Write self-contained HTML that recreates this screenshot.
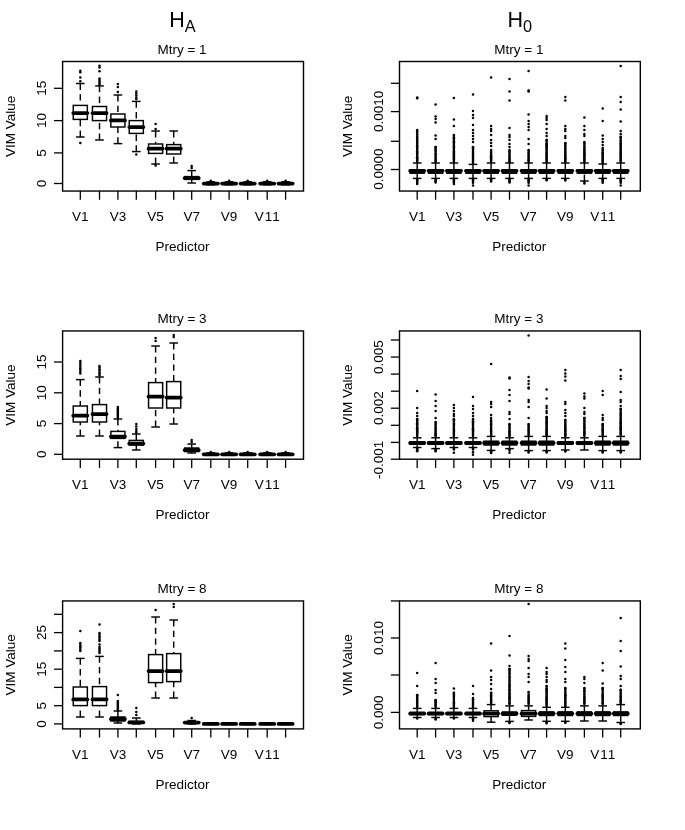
<!DOCTYPE html>
<html><head><meta charset="utf-8"><title>VIM boxplots</title>
<style>html,body{margin:0;padding:0;background:#fff}svg{display:block}</style>
</head><body>
<svg width="685" height="830" viewBox="0 0 685 830" font-family="Liberation Sans, Arial, sans-serif" font-size="13.5" fill="#000">
<rect width="685" height="830" fill="#fff"/>
<text x="169.3" y="27" font-size="21.5">H<tspan font-size="16.3" dy="5">A</tspan></text>
<text x="507.5" y="27" font-size="21.5">H<tspan font-size="16.3" dy="5">0</tspan></text>
<rect x="62.60" y="61.50" width="240.90" height="129.54" fill="none" stroke="#000" stroke-width="1.4"/>
<line x1="80.30" y1="191.04" x2="80.30" y2="199.74" stroke="#000" stroke-width="1.3"/>
<line x1="99.50" y1="191.04" x2="99.50" y2="199.74" stroke="#000" stroke-width="1.3"/>
<line x1="117.90" y1="191.04" x2="117.90" y2="199.74" stroke="#000" stroke-width="1.3"/>
<line x1="136.30" y1="191.04" x2="136.30" y2="199.74" stroke="#000" stroke-width="1.3"/>
<line x1="155.60" y1="191.04" x2="155.60" y2="199.74" stroke="#000" stroke-width="1.3"/>
<line x1="173.70" y1="191.04" x2="173.70" y2="199.74" stroke="#000" stroke-width="1.3"/>
<line x1="191.70" y1="191.04" x2="191.70" y2="199.74" stroke="#000" stroke-width="1.3"/>
<line x1="210.80" y1="191.04" x2="210.80" y2="199.74" stroke="#000" stroke-width="1.3"/>
<line x1="229.10" y1="191.04" x2="229.10" y2="199.74" stroke="#000" stroke-width="1.3"/>
<line x1="247.70" y1="191.04" x2="247.70" y2="199.74" stroke="#000" stroke-width="1.3"/>
<line x1="267.20" y1="191.04" x2="267.20" y2="199.74" stroke="#000" stroke-width="1.3"/>
<line x1="285.60" y1="191.04" x2="285.60" y2="199.74" stroke="#000" stroke-width="1.3"/>
<text x="80.30" y="221.04" text-anchor="middle">V1</text>
<text x="117.90" y="221.04" text-anchor="middle">V3</text>
<text x="155.60" y="221.04" text-anchor="middle">V5</text>
<text x="191.70" y="221.04" text-anchor="middle">V7</text>
<text x="229.10" y="221.04" text-anchor="middle">V9</text>
<text x="267.70" y="221.04" text-anchor="middle" letter-spacing="1">V11</text>
<text x="182.45" y="251.04" text-anchor="middle">Predictor</text>
<text x="182.05" y="54.00" text-anchor="middle">Mtry = 1</text>
<line x1="62.60" y1="88.30" x2="54.00" y2="88.30" stroke="#000" stroke-width="1.3"/>
<line x1="62.60" y1="120.60" x2="54.00" y2="120.60" stroke="#000" stroke-width="1.3"/>
<line x1="62.60" y1="152.90" x2="54.00" y2="152.90" stroke="#000" stroke-width="1.3"/>
<line x1="62.60" y1="183.50" x2="54.00" y2="183.50" stroke="#000" stroke-width="1.3"/>
<text transform="translate(46.20,88.30) rotate(-90)" text-anchor="middle">15</text>
<text transform="translate(46.20,120.60) rotate(-90)" text-anchor="middle">10</text>
<text transform="translate(46.20,152.90) rotate(-90)" text-anchor="middle">5</text>
<text transform="translate(46.20,183.50) rotate(-90)" text-anchor="middle">0</text>
<text transform="translate(15.30,126.27) rotate(-90)" text-anchor="middle">VIM Value</text>
<line x1="80.30" y1="83.50" x2="80.30" y2="105.40" stroke="#000" stroke-width="1.45" stroke-dasharray="6.4 4.3"/>
<line x1="80.30" y1="137.00" x2="80.30" y2="119.40" stroke="#000" stroke-width="1.45" stroke-dasharray="6.4 4.3"/>
<line x1="75.98" y1="83.50" x2="84.62" y2="83.50" stroke="#000" stroke-width="1.45"/>
<line x1="75.98" y1="137.00" x2="84.62" y2="137.00" stroke="#000" stroke-width="1.45"/>
<rect x="73.25" y="105.40" width="14.10" height="14.00" fill="none" stroke="#000" stroke-width="1.45"/>
<line x1="73.25" y1="113.00" x2="87.35" y2="113.00" stroke="#000" stroke-width="3.75" stroke-linecap="round"/>
<circle cx="80.30" cy="70.70" r="1.25"/>
<circle cx="80.30" cy="72.30" r="1.25"/>
<circle cx="80.30" cy="77.50" r="1.25"/>
<circle cx="80.30" cy="81.30" r="1.25"/>
<circle cx="80.30" cy="143.00" r="1.25"/>
<line x1="99.50" y1="85.90" x2="99.50" y2="106.50" stroke="#000" stroke-width="1.45" stroke-dasharray="6.4 4.3"/>
<line x1="99.50" y1="140.00" x2="99.50" y2="120.60" stroke="#000" stroke-width="1.45" stroke-dasharray="6.4 4.3"/>
<line x1="95.18" y1="85.90" x2="103.82" y2="85.90" stroke="#000" stroke-width="1.45"/>
<line x1="95.18" y1="140.00" x2="103.82" y2="140.00" stroke="#000" stroke-width="1.45"/>
<rect x="92.45" y="106.50" width="14.10" height="14.10" fill="none" stroke="#000" stroke-width="1.45"/>
<line x1="92.45" y1="113.00" x2="106.55" y2="113.00" stroke="#000" stroke-width="3.75" stroke-linecap="round"/>
<circle cx="99.50" cy="65.80" r="1.25"/>
<circle cx="99.50" cy="67.50" r="1.25"/>
<circle cx="99.50" cy="71.30" r="1.25"/>
<circle cx="99.50" cy="78.50" r="1.25"/>
<circle cx="99.50" cy="80.00" r="1.25"/>
<circle cx="99.50" cy="81.50" r="1.25"/>
<circle cx="99.50" cy="83.00" r="1.25"/>
<circle cx="99.50" cy="84.50" r="1.25"/>
<line x1="117.90" y1="95.00" x2="117.90" y2="114.00" stroke="#000" stroke-width="1.45" stroke-dasharray="6.4 4.3"/>
<line x1="117.90" y1="143.60" x2="117.90" y2="127.00" stroke="#000" stroke-width="1.45" stroke-dasharray="6.4 4.3"/>
<line x1="113.58" y1="95.00" x2="122.22" y2="95.00" stroke="#000" stroke-width="1.45"/>
<line x1="113.58" y1="143.60" x2="122.22" y2="143.60" stroke="#000" stroke-width="1.45"/>
<rect x="110.85" y="114.00" width="14.10" height="13.00" fill="none" stroke="#000" stroke-width="1.45"/>
<line x1="110.85" y1="120.40" x2="124.95" y2="120.40" stroke="#000" stroke-width="3.75" stroke-linecap="round"/>
<circle cx="117.90" cy="84.00" r="1.25"/>
<circle cx="117.90" cy="87.00" r="1.25"/>
<circle cx="117.90" cy="92.00" r="1.25"/>
<line x1="136.30" y1="101.40" x2="136.30" y2="120.60" stroke="#000" stroke-width="1.45" stroke-dasharray="6.4 4.3"/>
<line x1="136.30" y1="151.60" x2="136.30" y2="133.40" stroke="#000" stroke-width="1.45" stroke-dasharray="6.4 4.3"/>
<line x1="131.98" y1="101.40" x2="140.62" y2="101.40" stroke="#000" stroke-width="1.45"/>
<line x1="131.98" y1="151.60" x2="140.62" y2="151.60" stroke="#000" stroke-width="1.45"/>
<rect x="129.25" y="120.60" width="14.10" height="12.80" fill="none" stroke="#000" stroke-width="1.45"/>
<line x1="129.25" y1="127.00" x2="143.35" y2="127.00" stroke="#000" stroke-width="3.75" stroke-linecap="round"/>
<circle cx="136.30" cy="91.60" r="1.25"/>
<circle cx="136.30" cy="93.50" r="1.25"/>
<circle cx="136.30" cy="95.50" r="1.25"/>
<circle cx="136.30" cy="97.50" r="1.25"/>
<circle cx="136.30" cy="99.00" r="1.25"/>
<circle cx="136.30" cy="154.60" r="1.25"/>
<line x1="155.60" y1="131.00" x2="155.60" y2="144.00" stroke="#000" stroke-width="1.45" stroke-dasharray="6.4 4.3"/>
<line x1="155.60" y1="164.00" x2="155.60" y2="153.40" stroke="#000" stroke-width="1.45" stroke-dasharray="6.4 4.3"/>
<line x1="151.28" y1="131.00" x2="159.92" y2="131.00" stroke="#000" stroke-width="1.45"/>
<line x1="151.28" y1="164.00" x2="159.92" y2="164.00" stroke="#000" stroke-width="1.45"/>
<rect x="148.55" y="144.00" width="14.10" height="9.40" fill="none" stroke="#000" stroke-width="1.45"/>
<line x1="148.55" y1="148.60" x2="162.65" y2="148.60" stroke="#000" stroke-width="3.75" stroke-linecap="round"/>
<circle cx="155.60" cy="124.00" r="1.25"/>
<circle cx="155.60" cy="129.00" r="1.25"/>
<circle cx="155.60" cy="165.60" r="1.25"/>
<line x1="173.70" y1="131.00" x2="173.70" y2="144.60" stroke="#000" stroke-width="1.45" stroke-dasharray="6.4 4.3"/>
<line x1="173.70" y1="163.00" x2="173.70" y2="154.00" stroke="#000" stroke-width="1.45" stroke-dasharray="6.4 4.3"/>
<line x1="169.38" y1="131.00" x2="178.02" y2="131.00" stroke="#000" stroke-width="1.45"/>
<line x1="169.38" y1="163.00" x2="178.02" y2="163.00" stroke="#000" stroke-width="1.45"/>
<rect x="166.65" y="144.60" width="14.10" height="9.40" fill="none" stroke="#000" stroke-width="1.45"/>
<line x1="166.65" y1="148.60" x2="180.75" y2="148.60" stroke="#000" stroke-width="3.75" stroke-linecap="round"/>
<line x1="191.70" y1="170.60" x2="191.70" y2="176.60" stroke="#000" stroke-width="1.45" stroke-dasharray="6.4 4.3"/>
<line x1="191.70" y1="183.00" x2="191.70" y2="179.40" stroke="#000" stroke-width="1.45" stroke-dasharray="6.4 4.3"/>
<line x1="187.38" y1="170.60" x2="196.02" y2="170.60" stroke="#000" stroke-width="1.45"/>
<line x1="187.38" y1="183.00" x2="196.02" y2="183.00" stroke="#000" stroke-width="1.45"/>
<rect x="184.65" y="176.60" width="14.10" height="2.80" fill="#000" stroke="#000" stroke-width="1.45"/>
<line x1="184.65" y1="178.00" x2="198.75" y2="178.00" stroke="#000" stroke-width="3.75" stroke-linecap="round"/>
<circle cx="191.70" cy="166.00" r="1.25"/>
<circle cx="191.70" cy="168.00" r="1.25"/>
<line x1="210.80" y1="181.80" x2="210.80" y2="183.10" stroke="#000" stroke-width="1.45" stroke-dasharray="6.4 4.3"/>
<line x1="210.80" y1="184.80" x2="210.80" y2="183.90" stroke="#000" stroke-width="1.45" stroke-dasharray="6.4 4.3"/>
<line x1="206.48" y1="181.80" x2="215.12" y2="181.80" stroke="#000" stroke-width="1.45"/>
<line x1="206.48" y1="184.80" x2="215.12" y2="184.80" stroke="#000" stroke-width="1.45"/>
<rect x="203.75" y="183.10" width="14.10" height="0.80" fill="#000" stroke="#000" stroke-width="1.45"/>
<line x1="203.75" y1="183.50" x2="217.85" y2="183.50" stroke="#000" stroke-width="3.75" stroke-linecap="round"/>
<circle cx="210.80" cy="180.80" r="1.25"/>
<line x1="229.10" y1="181.80" x2="229.10" y2="183.10" stroke="#000" stroke-width="1.45" stroke-dasharray="6.4 4.3"/>
<line x1="229.10" y1="184.80" x2="229.10" y2="183.90" stroke="#000" stroke-width="1.45" stroke-dasharray="6.4 4.3"/>
<line x1="224.78" y1="181.80" x2="233.42" y2="181.80" stroke="#000" stroke-width="1.45"/>
<line x1="224.78" y1="184.80" x2="233.42" y2="184.80" stroke="#000" stroke-width="1.45"/>
<rect x="222.05" y="183.10" width="14.10" height="0.80" fill="#000" stroke="#000" stroke-width="1.45"/>
<line x1="222.05" y1="183.50" x2="236.15" y2="183.50" stroke="#000" stroke-width="3.75" stroke-linecap="round"/>
<circle cx="229.10" cy="180.80" r="1.25"/>
<line x1="247.70" y1="181.80" x2="247.70" y2="183.10" stroke="#000" stroke-width="1.45" stroke-dasharray="6.4 4.3"/>
<line x1="247.70" y1="184.80" x2="247.70" y2="183.90" stroke="#000" stroke-width="1.45" stroke-dasharray="6.4 4.3"/>
<line x1="243.38" y1="181.80" x2="252.02" y2="181.80" stroke="#000" stroke-width="1.45"/>
<line x1="243.38" y1="184.80" x2="252.02" y2="184.80" stroke="#000" stroke-width="1.45"/>
<rect x="240.65" y="183.10" width="14.10" height="0.80" fill="#000" stroke="#000" stroke-width="1.45"/>
<line x1="240.65" y1="183.50" x2="254.75" y2="183.50" stroke="#000" stroke-width="3.75" stroke-linecap="round"/>
<circle cx="247.70" cy="180.80" r="1.25"/>
<line x1="267.20" y1="181.80" x2="267.20" y2="183.10" stroke="#000" stroke-width="1.45" stroke-dasharray="6.4 4.3"/>
<line x1="267.20" y1="184.80" x2="267.20" y2="183.90" stroke="#000" stroke-width="1.45" stroke-dasharray="6.4 4.3"/>
<line x1="262.88" y1="181.80" x2="271.52" y2="181.80" stroke="#000" stroke-width="1.45"/>
<line x1="262.88" y1="184.80" x2="271.52" y2="184.80" stroke="#000" stroke-width="1.45"/>
<rect x="260.15" y="183.10" width="14.10" height="0.80" fill="#000" stroke="#000" stroke-width="1.45"/>
<line x1="260.15" y1="183.50" x2="274.25" y2="183.50" stroke="#000" stroke-width="3.75" stroke-linecap="round"/>
<circle cx="267.20" cy="180.80" r="1.25"/>
<line x1="285.60" y1="181.80" x2="285.60" y2="183.10" stroke="#000" stroke-width="1.45" stroke-dasharray="6.4 4.3"/>
<line x1="285.60" y1="184.80" x2="285.60" y2="183.90" stroke="#000" stroke-width="1.45" stroke-dasharray="6.4 4.3"/>
<line x1="281.28" y1="181.80" x2="289.92" y2="181.80" stroke="#000" stroke-width="1.45"/>
<line x1="281.28" y1="184.80" x2="289.92" y2="184.80" stroke="#000" stroke-width="1.45"/>
<rect x="278.55" y="183.10" width="14.10" height="0.80" fill="#000" stroke="#000" stroke-width="1.45"/>
<line x1="278.55" y1="183.50" x2="292.65" y2="183.50" stroke="#000" stroke-width="3.75" stroke-linecap="round"/>
<circle cx="285.60" cy="180.80" r="1.25"/>
<rect x="62.60" y="330.95" width="240.90" height="128.25" fill="none" stroke="#000" stroke-width="1.4"/>
<line x1="80.30" y1="459.20" x2="80.30" y2="467.90" stroke="#000" stroke-width="1.3"/>
<line x1="99.50" y1="459.20" x2="99.50" y2="467.90" stroke="#000" stroke-width="1.3"/>
<line x1="117.90" y1="459.20" x2="117.90" y2="467.90" stroke="#000" stroke-width="1.3"/>
<line x1="136.30" y1="459.20" x2="136.30" y2="467.90" stroke="#000" stroke-width="1.3"/>
<line x1="155.60" y1="459.20" x2="155.60" y2="467.90" stroke="#000" stroke-width="1.3"/>
<line x1="173.70" y1="459.20" x2="173.70" y2="467.90" stroke="#000" stroke-width="1.3"/>
<line x1="191.70" y1="459.20" x2="191.70" y2="467.90" stroke="#000" stroke-width="1.3"/>
<line x1="210.80" y1="459.20" x2="210.80" y2="467.90" stroke="#000" stroke-width="1.3"/>
<line x1="229.10" y1="459.20" x2="229.10" y2="467.90" stroke="#000" stroke-width="1.3"/>
<line x1="247.70" y1="459.20" x2="247.70" y2="467.90" stroke="#000" stroke-width="1.3"/>
<line x1="267.20" y1="459.20" x2="267.20" y2="467.90" stroke="#000" stroke-width="1.3"/>
<line x1="285.60" y1="459.20" x2="285.60" y2="467.90" stroke="#000" stroke-width="1.3"/>
<text x="80.30" y="489.20" text-anchor="middle">V1</text>
<text x="117.90" y="489.20" text-anchor="middle">V3</text>
<text x="155.60" y="489.20" text-anchor="middle">V5</text>
<text x="191.70" y="489.20" text-anchor="middle">V7</text>
<text x="229.10" y="489.20" text-anchor="middle">V9</text>
<text x="267.70" y="489.20" text-anchor="middle" letter-spacing="1">V11</text>
<text x="182.45" y="519.20" text-anchor="middle">Predictor</text>
<text x="182.05" y="323.45" text-anchor="middle">Mtry = 3</text>
<line x1="62.60" y1="362.00" x2="54.00" y2="362.00" stroke="#000" stroke-width="1.3"/>
<line x1="62.60" y1="392.80" x2="54.00" y2="392.80" stroke="#000" stroke-width="1.3"/>
<line x1="62.60" y1="423.60" x2="54.00" y2="423.60" stroke="#000" stroke-width="1.3"/>
<line x1="62.60" y1="454.30" x2="54.00" y2="454.30" stroke="#000" stroke-width="1.3"/>
<text transform="translate(46.20,362.00) rotate(-90)" text-anchor="middle">15</text>
<text transform="translate(46.20,392.80) rotate(-90)" text-anchor="middle">10</text>
<text transform="translate(46.20,423.60) rotate(-90)" text-anchor="middle">5</text>
<text transform="translate(46.20,454.30) rotate(-90)" text-anchor="middle">0</text>
<text transform="translate(15.30,395.07) rotate(-90)" text-anchor="middle">VIM Value</text>
<line x1="80.30" y1="379.60" x2="80.30" y2="406.00" stroke="#000" stroke-width="1.45" stroke-dasharray="6.4 4.3"/>
<line x1="80.30" y1="436.00" x2="80.30" y2="422.00" stroke="#000" stroke-width="1.45" stroke-dasharray="6.4 4.3"/>
<line x1="75.98" y1="379.60" x2="84.62" y2="379.60" stroke="#000" stroke-width="1.45"/>
<line x1="75.98" y1="436.00" x2="84.62" y2="436.00" stroke="#000" stroke-width="1.45"/>
<rect x="73.25" y="406.00" width="14.10" height="16.00" fill="none" stroke="#000" stroke-width="1.45"/>
<line x1="73.25" y1="415.60" x2="87.35" y2="415.60" stroke="#000" stroke-width="3.75" stroke-linecap="round"/>
<circle cx="80.30" cy="361.00" r="1.25"/>
<circle cx="80.30" cy="362.80" r="1.25"/>
<circle cx="80.30" cy="364.60" r="1.25"/>
<circle cx="80.30" cy="366.40" r="1.25"/>
<circle cx="80.30" cy="368.20" r="1.25"/>
<circle cx="80.30" cy="370.00" r="1.25"/>
<circle cx="80.30" cy="371.80" r="1.25"/>
<circle cx="80.30" cy="373.60" r="1.25"/>
<line x1="99.50" y1="377.00" x2="99.50" y2="404.60" stroke="#000" stroke-width="1.45" stroke-dasharray="6.4 4.3"/>
<line x1="99.50" y1="436.00" x2="99.50" y2="422.00" stroke="#000" stroke-width="1.45" stroke-dasharray="6.4 4.3"/>
<line x1="95.18" y1="377.00" x2="103.82" y2="377.00" stroke="#000" stroke-width="1.45"/>
<line x1="95.18" y1="436.00" x2="103.82" y2="436.00" stroke="#000" stroke-width="1.45"/>
<rect x="92.45" y="404.60" width="14.10" height="17.40" fill="none" stroke="#000" stroke-width="1.45"/>
<line x1="92.45" y1="414.00" x2="106.55" y2="414.00" stroke="#000" stroke-width="3.75" stroke-linecap="round"/>
<circle cx="99.50" cy="366.00" r="1.25"/>
<circle cx="99.50" cy="367.60" r="1.25"/>
<circle cx="99.50" cy="369.20" r="1.25"/>
<circle cx="99.50" cy="370.80" r="1.25"/>
<circle cx="99.50" cy="372.40" r="1.25"/>
<circle cx="99.50" cy="374.00" r="1.25"/>
<circle cx="99.50" cy="375.60" r="1.25"/>
<line x1="117.90" y1="419.00" x2="117.90" y2="431.40" stroke="#000" stroke-width="1.45" stroke-dasharray="6.4 4.3"/>
<line x1="117.90" y1="447.60" x2="117.90" y2="438.40" stroke="#000" stroke-width="1.45" stroke-dasharray="6.4 4.3"/>
<line x1="113.58" y1="419.00" x2="122.22" y2="419.00" stroke="#000" stroke-width="1.45"/>
<line x1="113.58" y1="447.60" x2="122.22" y2="447.60" stroke="#000" stroke-width="1.45"/>
<rect x="110.85" y="431.40" width="14.10" height="7.00" fill="none" stroke="#000" stroke-width="1.45"/>
<line x1="110.85" y1="436.60" x2="124.95" y2="436.60" stroke="#000" stroke-width="3.75" stroke-linecap="round"/>
<circle cx="117.90" cy="407.00" r="1.25"/>
<circle cx="117.90" cy="408.00" r="1.25"/>
<circle cx="117.90" cy="409.00" r="1.25"/>
<circle cx="117.90" cy="410.00" r="1.25"/>
<circle cx="117.90" cy="411.00" r="1.25"/>
<circle cx="117.90" cy="412.00" r="1.25"/>
<circle cx="117.90" cy="413.00" r="1.25"/>
<circle cx="117.90" cy="414.00" r="1.25"/>
<circle cx="117.90" cy="415.00" r="1.25"/>
<circle cx="117.90" cy="416.00" r="1.25"/>
<circle cx="117.90" cy="417.00" r="1.25"/>
<circle cx="117.90" cy="418.00" r="1.25"/>
<line x1="136.30" y1="434.00" x2="136.30" y2="440.40" stroke="#000" stroke-width="1.45" stroke-dasharray="6.4 4.3"/>
<line x1="136.30" y1="450.00" x2="136.30" y2="445.00" stroke="#000" stroke-width="1.45" stroke-dasharray="6.4 4.3"/>
<line x1="131.98" y1="434.00" x2="140.62" y2="434.00" stroke="#000" stroke-width="1.45"/>
<line x1="131.98" y1="450.00" x2="140.62" y2="450.00" stroke="#000" stroke-width="1.45"/>
<rect x="129.25" y="440.40" width="14.10" height="4.60" fill="none" stroke="#000" stroke-width="1.45"/>
<line x1="129.25" y1="443.60" x2="143.35" y2="443.60" stroke="#000" stroke-width="3.75" stroke-linecap="round"/>
<circle cx="136.30" cy="424.00" r="1.25"/>
<circle cx="136.30" cy="426.50" r="1.25"/>
<circle cx="136.30" cy="429.00" r="1.25"/>
<circle cx="136.30" cy="431.00" r="1.25"/>
<circle cx="136.30" cy="432.50" r="1.25"/>
<line x1="155.60" y1="346.00" x2="155.60" y2="382.60" stroke="#000" stroke-width="1.45" stroke-dasharray="6.4 4.3"/>
<line x1="155.60" y1="427.00" x2="155.60" y2="408.00" stroke="#000" stroke-width="1.45" stroke-dasharray="6.4 4.3"/>
<line x1="151.28" y1="346.00" x2="159.92" y2="346.00" stroke="#000" stroke-width="1.45"/>
<line x1="151.28" y1="427.00" x2="159.92" y2="427.00" stroke="#000" stroke-width="1.45"/>
<rect x="148.55" y="382.60" width="14.10" height="25.40" fill="none" stroke="#000" stroke-width="1.45"/>
<line x1="148.55" y1="396.60" x2="162.65" y2="396.60" stroke="#000" stroke-width="3.75" stroke-linecap="round"/>
<circle cx="155.60" cy="338.00" r="1.25"/>
<circle cx="155.60" cy="341.00" r="1.25"/>
<line x1="173.70" y1="343.00" x2="173.70" y2="381.60" stroke="#000" stroke-width="1.45" stroke-dasharray="6.4 4.3"/>
<line x1="173.70" y1="424.00" x2="173.70" y2="408.00" stroke="#000" stroke-width="1.45" stroke-dasharray="6.4 4.3"/>
<line x1="169.38" y1="343.00" x2="178.02" y2="343.00" stroke="#000" stroke-width="1.45"/>
<line x1="169.38" y1="424.00" x2="178.02" y2="424.00" stroke="#000" stroke-width="1.45"/>
<rect x="166.65" y="381.60" width="14.10" height="26.40" fill="none" stroke="#000" stroke-width="1.45"/>
<line x1="166.65" y1="397.60" x2="180.75" y2="397.60" stroke="#000" stroke-width="3.75" stroke-linecap="round"/>
<circle cx="173.70" cy="335.00" r="1.25"/>
<circle cx="173.70" cy="337.00" r="1.25"/>
<line x1="191.70" y1="444.00" x2="191.70" y2="448.00" stroke="#000" stroke-width="1.45" stroke-dasharray="6.4 4.3"/>
<line x1="191.70" y1="453.00" x2="191.70" y2="451.60" stroke="#000" stroke-width="1.45" stroke-dasharray="6.4 4.3"/>
<line x1="187.38" y1="444.00" x2="196.02" y2="444.00" stroke="#000" stroke-width="1.45"/>
<line x1="187.38" y1="453.00" x2="196.02" y2="453.00" stroke="#000" stroke-width="1.45"/>
<rect x="184.65" y="448.00" width="14.10" height="3.60" fill="#000" stroke="#000" stroke-width="1.45"/>
<line x1="184.65" y1="450.00" x2="198.75" y2="450.00" stroke="#000" stroke-width="3.75" stroke-linecap="round"/>
<circle cx="191.70" cy="440.00" r="1.25"/>
<circle cx="191.70" cy="442.00" r="1.25"/>
<line x1="210.80" y1="452.80" x2="210.80" y2="453.90" stroke="#000" stroke-width="1.45" stroke-dasharray="6.4 4.3"/>
<line x1="210.80" y1="455.20" x2="210.80" y2="454.60" stroke="#000" stroke-width="1.45" stroke-dasharray="6.4 4.3"/>
<line x1="206.48" y1="452.80" x2="215.12" y2="452.80" stroke="#000" stroke-width="1.45"/>
<line x1="206.48" y1="455.20" x2="215.12" y2="455.20" stroke="#000" stroke-width="1.45"/>
<rect x="203.75" y="453.90" width="14.10" height="0.70" fill="#000" stroke="#000" stroke-width="1.45"/>
<line x1="203.75" y1="454.30" x2="217.85" y2="454.30" stroke="#000" stroke-width="3.75" stroke-linecap="round"/>
<circle cx="210.80" cy="452.00" r="1.25"/>
<line x1="229.10" y1="452.80" x2="229.10" y2="453.90" stroke="#000" stroke-width="1.45" stroke-dasharray="6.4 4.3"/>
<line x1="229.10" y1="455.20" x2="229.10" y2="454.60" stroke="#000" stroke-width="1.45" stroke-dasharray="6.4 4.3"/>
<line x1="224.78" y1="452.80" x2="233.42" y2="452.80" stroke="#000" stroke-width="1.45"/>
<line x1="224.78" y1="455.20" x2="233.42" y2="455.20" stroke="#000" stroke-width="1.45"/>
<rect x="222.05" y="453.90" width="14.10" height="0.70" fill="#000" stroke="#000" stroke-width="1.45"/>
<line x1="222.05" y1="454.30" x2="236.15" y2="454.30" stroke="#000" stroke-width="3.75" stroke-linecap="round"/>
<circle cx="229.10" cy="452.00" r="1.25"/>
<line x1="247.70" y1="452.80" x2="247.70" y2="453.90" stroke="#000" stroke-width="1.45" stroke-dasharray="6.4 4.3"/>
<line x1="247.70" y1="455.20" x2="247.70" y2="454.60" stroke="#000" stroke-width="1.45" stroke-dasharray="6.4 4.3"/>
<line x1="243.38" y1="452.80" x2="252.02" y2="452.80" stroke="#000" stroke-width="1.45"/>
<line x1="243.38" y1="455.20" x2="252.02" y2="455.20" stroke="#000" stroke-width="1.45"/>
<rect x="240.65" y="453.90" width="14.10" height="0.70" fill="#000" stroke="#000" stroke-width="1.45"/>
<line x1="240.65" y1="454.30" x2="254.75" y2="454.30" stroke="#000" stroke-width="3.75" stroke-linecap="round"/>
<circle cx="247.70" cy="452.00" r="1.25"/>
<line x1="267.20" y1="452.80" x2="267.20" y2="453.90" stroke="#000" stroke-width="1.45" stroke-dasharray="6.4 4.3"/>
<line x1="267.20" y1="455.20" x2="267.20" y2="454.60" stroke="#000" stroke-width="1.45" stroke-dasharray="6.4 4.3"/>
<line x1="262.88" y1="452.80" x2="271.52" y2="452.80" stroke="#000" stroke-width="1.45"/>
<line x1="262.88" y1="455.20" x2="271.52" y2="455.20" stroke="#000" stroke-width="1.45"/>
<rect x="260.15" y="453.90" width="14.10" height="0.70" fill="#000" stroke="#000" stroke-width="1.45"/>
<line x1="260.15" y1="454.30" x2="274.25" y2="454.30" stroke="#000" stroke-width="3.75" stroke-linecap="round"/>
<circle cx="267.20" cy="452.00" r="1.25"/>
<line x1="285.60" y1="452.80" x2="285.60" y2="453.90" stroke="#000" stroke-width="1.45" stroke-dasharray="6.4 4.3"/>
<line x1="285.60" y1="455.20" x2="285.60" y2="454.60" stroke="#000" stroke-width="1.45" stroke-dasharray="6.4 4.3"/>
<line x1="281.28" y1="452.80" x2="289.92" y2="452.80" stroke="#000" stroke-width="1.45"/>
<line x1="281.28" y1="455.20" x2="289.92" y2="455.20" stroke="#000" stroke-width="1.45"/>
<rect x="278.55" y="453.90" width="14.10" height="0.70" fill="#000" stroke="#000" stroke-width="1.45"/>
<line x1="278.55" y1="454.30" x2="292.65" y2="454.30" stroke="#000" stroke-width="3.75" stroke-linecap="round"/>
<circle cx="285.60" cy="452.00" r="1.25"/>
<rect x="62.60" y="600.95" width="240.90" height="127.95" fill="none" stroke="#000" stroke-width="1.4"/>
<line x1="80.30" y1="728.90" x2="80.30" y2="737.60" stroke="#000" stroke-width="1.3"/>
<line x1="99.50" y1="728.90" x2="99.50" y2="737.60" stroke="#000" stroke-width="1.3"/>
<line x1="117.90" y1="728.90" x2="117.90" y2="737.60" stroke="#000" stroke-width="1.3"/>
<line x1="136.30" y1="728.90" x2="136.30" y2="737.60" stroke="#000" stroke-width="1.3"/>
<line x1="155.60" y1="728.90" x2="155.60" y2="737.60" stroke="#000" stroke-width="1.3"/>
<line x1="173.70" y1="728.90" x2="173.70" y2="737.60" stroke="#000" stroke-width="1.3"/>
<line x1="191.70" y1="728.90" x2="191.70" y2="737.60" stroke="#000" stroke-width="1.3"/>
<line x1="210.80" y1="728.90" x2="210.80" y2="737.60" stroke="#000" stroke-width="1.3"/>
<line x1="229.10" y1="728.90" x2="229.10" y2="737.60" stroke="#000" stroke-width="1.3"/>
<line x1="247.70" y1="728.90" x2="247.70" y2="737.60" stroke="#000" stroke-width="1.3"/>
<line x1="267.20" y1="728.90" x2="267.20" y2="737.60" stroke="#000" stroke-width="1.3"/>
<line x1="285.60" y1="728.90" x2="285.60" y2="737.60" stroke="#000" stroke-width="1.3"/>
<text x="80.30" y="758.90" text-anchor="middle">V1</text>
<text x="117.90" y="758.90" text-anchor="middle">V3</text>
<text x="155.60" y="758.90" text-anchor="middle">V5</text>
<text x="191.70" y="758.90" text-anchor="middle">V7</text>
<text x="229.10" y="758.90" text-anchor="middle">V9</text>
<text x="267.70" y="758.90" text-anchor="middle" letter-spacing="1">V11</text>
<text x="182.45" y="788.90" text-anchor="middle">Predictor</text>
<text x="182.05" y="593.45" text-anchor="middle">Mtry = 8</text>
<line x1="62.60" y1="614.30" x2="54.00" y2="614.30" stroke="#000" stroke-width="1.3"/>
<line x1="62.60" y1="632.60" x2="54.00" y2="632.60" stroke="#000" stroke-width="1.3"/>
<line x1="62.60" y1="650.90" x2="54.00" y2="650.90" stroke="#000" stroke-width="1.3"/>
<line x1="62.60" y1="669.20" x2="54.00" y2="669.20" stroke="#000" stroke-width="1.3"/>
<line x1="62.60" y1="687.40" x2="54.00" y2="687.40" stroke="#000" stroke-width="1.3"/>
<line x1="62.60" y1="705.70" x2="54.00" y2="705.70" stroke="#000" stroke-width="1.3"/>
<line x1="62.60" y1="723.90" x2="54.00" y2="723.90" stroke="#000" stroke-width="1.3"/>
<text transform="translate(46.20,632.60) rotate(-90)" text-anchor="middle">25</text>
<text transform="translate(46.20,669.20) rotate(-90)" text-anchor="middle">15</text>
<text transform="translate(46.20,705.70) rotate(-90)" text-anchor="middle">5</text>
<text transform="translate(46.20,723.90) rotate(-90)" text-anchor="middle">0</text>
<text transform="translate(15.30,664.92) rotate(-90)" text-anchor="middle">VIM Value</text>
<line x1="80.30" y1="658.40" x2="80.30" y2="687.00" stroke="#000" stroke-width="1.45" stroke-dasharray="6.4 4.3"/>
<line x1="80.30" y1="717.00" x2="80.30" y2="705.60" stroke="#000" stroke-width="1.45" stroke-dasharray="6.4 4.3"/>
<line x1="75.98" y1="658.40" x2="84.62" y2="658.40" stroke="#000" stroke-width="1.45"/>
<line x1="75.98" y1="717.00" x2="84.62" y2="717.00" stroke="#000" stroke-width="1.45"/>
<rect x="73.25" y="687.00" width="14.10" height="18.60" fill="none" stroke="#000" stroke-width="1.45"/>
<line x1="73.25" y1="699.40" x2="87.35" y2="699.40" stroke="#000" stroke-width="3.75" stroke-linecap="round"/>
<circle cx="80.30" cy="631.00" r="1.25"/>
<circle cx="80.30" cy="643.00" r="1.25"/>
<circle cx="80.30" cy="644.60" r="1.25"/>
<circle cx="80.30" cy="646.20" r="1.25"/>
<circle cx="80.30" cy="647.80" r="1.25"/>
<circle cx="80.30" cy="649.40" r="1.25"/>
<circle cx="80.30" cy="651.00" r="1.25"/>
<line x1="99.50" y1="656.40" x2="99.50" y2="686.60" stroke="#000" stroke-width="1.45" stroke-dasharray="6.4 4.3"/>
<line x1="99.50" y1="717.00" x2="99.50" y2="705.60" stroke="#000" stroke-width="1.45" stroke-dasharray="6.4 4.3"/>
<line x1="95.18" y1="656.40" x2="103.82" y2="656.40" stroke="#000" stroke-width="1.45"/>
<line x1="95.18" y1="717.00" x2="103.82" y2="717.00" stroke="#000" stroke-width="1.45"/>
<rect x="92.45" y="686.60" width="14.10" height="19.00" fill="none" stroke="#000" stroke-width="1.45"/>
<line x1="92.45" y1="699.40" x2="106.55" y2="699.40" stroke="#000" stroke-width="3.75" stroke-linecap="round"/>
<circle cx="99.50" cy="624.40" r="1.25"/>
<circle cx="99.50" cy="633.00" r="1.25"/>
<circle cx="99.50" cy="634.60" r="1.25"/>
<circle cx="99.50" cy="636.20" r="1.25"/>
<circle cx="99.50" cy="637.80" r="1.25"/>
<circle cx="99.50" cy="639.40" r="1.25"/>
<circle cx="99.50" cy="641.00" r="1.25"/>
<circle cx="99.50" cy="644.50" r="1.25"/>
<circle cx="99.50" cy="647.00" r="1.25"/>
<circle cx="99.50" cy="648.50" r="1.25"/>
<circle cx="99.50" cy="650.00" r="1.25"/>
<circle cx="99.50" cy="651.50" r="1.25"/>
<circle cx="99.50" cy="653.00" r="1.25"/>
<line x1="117.90" y1="711.00" x2="117.90" y2="717.00" stroke="#000" stroke-width="1.45" stroke-dasharray="6.4 4.3"/>
<line x1="117.90" y1="723.00" x2="117.90" y2="721.00" stroke="#000" stroke-width="1.45" stroke-dasharray="6.4 4.3"/>
<line x1="113.58" y1="711.00" x2="122.22" y2="711.00" stroke="#000" stroke-width="1.45"/>
<line x1="113.58" y1="723.00" x2="122.22" y2="723.00" stroke="#000" stroke-width="1.45"/>
<rect x="110.85" y="717.00" width="14.10" height="4.00" fill="#000" stroke="#000" stroke-width="1.45"/>
<line x1="110.85" y1="719.00" x2="124.95" y2="719.00" stroke="#000" stroke-width="3.75" stroke-linecap="round"/>
<circle cx="117.90" cy="695.00" r="1.25"/>
<circle cx="117.90" cy="701.00" r="1.25"/>
<circle cx="117.90" cy="702.00" r="1.25"/>
<circle cx="117.90" cy="703.00" r="1.25"/>
<circle cx="117.90" cy="704.00" r="1.25"/>
<circle cx="117.90" cy="705.00" r="1.25"/>
<circle cx="117.90" cy="706.00" r="1.25"/>
<circle cx="117.90" cy="707.00" r="1.25"/>
<circle cx="117.90" cy="708.00" r="1.25"/>
<circle cx="117.90" cy="709.00" r="1.25"/>
<circle cx="117.90" cy="710.00" r="1.25"/>
<line x1="136.30" y1="718.00" x2="136.30" y2="721.50" stroke="#000" stroke-width="1.45" stroke-dasharray="6.4 4.3"/>
<line x1="136.30" y1="724.00" x2="136.30" y2="723.30" stroke="#000" stroke-width="1.45" stroke-dasharray="6.4 4.3"/>
<line x1="131.98" y1="718.00" x2="140.62" y2="718.00" stroke="#000" stroke-width="1.45"/>
<line x1="131.98" y1="724.00" x2="140.62" y2="724.00" stroke="#000" stroke-width="1.45"/>
<rect x="129.25" y="721.50" width="14.10" height="1.80" fill="#000" stroke="#000" stroke-width="1.45"/>
<line x1="129.25" y1="722.40" x2="143.35" y2="722.40" stroke="#000" stroke-width="3.75" stroke-linecap="round"/>
<circle cx="136.30" cy="708.00" r="1.25"/>
<circle cx="136.30" cy="712.00" r="1.25"/>
<circle cx="136.30" cy="715.00" r="1.25"/>
<line x1="155.60" y1="617.00" x2="155.60" y2="654.60" stroke="#000" stroke-width="1.45" stroke-dasharray="6.4 4.3"/>
<line x1="155.60" y1="698.00" x2="155.60" y2="682.60" stroke="#000" stroke-width="1.45" stroke-dasharray="6.4 4.3"/>
<line x1="151.28" y1="617.00" x2="159.92" y2="617.00" stroke="#000" stroke-width="1.45"/>
<line x1="151.28" y1="698.00" x2="159.92" y2="698.00" stroke="#000" stroke-width="1.45"/>
<rect x="148.55" y="654.60" width="14.10" height="28.00" fill="none" stroke="#000" stroke-width="1.45"/>
<line x1="148.55" y1="671.00" x2="162.65" y2="671.00" stroke="#000" stroke-width="3.75" stroke-linecap="round"/>
<circle cx="155.60" cy="610.00" r="1.25"/>
<line x1="173.70" y1="620.00" x2="173.70" y2="653.60" stroke="#000" stroke-width="1.45" stroke-dasharray="6.4 4.3"/>
<line x1="173.70" y1="698.00" x2="173.70" y2="681.60" stroke="#000" stroke-width="1.45" stroke-dasharray="6.4 4.3"/>
<line x1="169.38" y1="620.00" x2="178.02" y2="620.00" stroke="#000" stroke-width="1.45"/>
<line x1="169.38" y1="698.00" x2="178.02" y2="698.00" stroke="#000" stroke-width="1.45"/>
<rect x="166.65" y="653.60" width="14.10" height="28.00" fill="none" stroke="#000" stroke-width="1.45"/>
<line x1="166.65" y1="671.00" x2="180.75" y2="671.00" stroke="#000" stroke-width="3.75" stroke-linecap="round"/>
<circle cx="173.70" cy="604.00" r="1.25"/>
<circle cx="173.70" cy="607.00" r="1.25"/>
<line x1="191.70" y1="720.50" x2="191.70" y2="722.00" stroke="#000" stroke-width="1.45" stroke-dasharray="6.4 4.3"/>
<line x1="191.70" y1="724.00" x2="191.70" y2="723.20" stroke="#000" stroke-width="1.45" stroke-dasharray="6.4 4.3"/>
<line x1="187.38" y1="720.50" x2="196.02" y2="720.50" stroke="#000" stroke-width="1.45"/>
<line x1="187.38" y1="724.00" x2="196.02" y2="724.00" stroke="#000" stroke-width="1.45"/>
<rect x="184.65" y="722.00" width="14.10" height="1.20" fill="#000" stroke="#000" stroke-width="1.45"/>
<line x1="184.65" y1="722.60" x2="198.75" y2="722.60" stroke="#000" stroke-width="3.75" stroke-linecap="round"/>
<circle cx="191.70" cy="718.00" r="1.25"/>
<line x1="210.80" y1="723.20" x2="210.80" y2="723.70" stroke="#000" stroke-width="1.45" stroke-dasharray="6.4 4.3"/>
<line x1="210.80" y1="724.50" x2="210.80" y2="724.10" stroke="#000" stroke-width="1.45" stroke-dasharray="6.4 4.3"/>
<line x1="206.48" y1="723.20" x2="215.12" y2="723.20" stroke="#000" stroke-width="1.45"/>
<line x1="206.48" y1="724.50" x2="215.12" y2="724.50" stroke="#000" stroke-width="1.45"/>
<rect x="203.75" y="723.70" width="14.10" height="0.40" fill="#000" stroke="#000" stroke-width="1.45"/>
<line x1="203.75" y1="723.90" x2="217.85" y2="723.90" stroke="#000" stroke-width="3.75" stroke-linecap="round"/>
<line x1="229.10" y1="723.20" x2="229.10" y2="723.70" stroke="#000" stroke-width="1.45" stroke-dasharray="6.4 4.3"/>
<line x1="229.10" y1="724.50" x2="229.10" y2="724.10" stroke="#000" stroke-width="1.45" stroke-dasharray="6.4 4.3"/>
<line x1="224.78" y1="723.20" x2="233.42" y2="723.20" stroke="#000" stroke-width="1.45"/>
<line x1="224.78" y1="724.50" x2="233.42" y2="724.50" stroke="#000" stroke-width="1.45"/>
<rect x="222.05" y="723.70" width="14.10" height="0.40" fill="#000" stroke="#000" stroke-width="1.45"/>
<line x1="222.05" y1="723.90" x2="236.15" y2="723.90" stroke="#000" stroke-width="3.75" stroke-linecap="round"/>
<line x1="247.70" y1="723.20" x2="247.70" y2="723.70" stroke="#000" stroke-width="1.45" stroke-dasharray="6.4 4.3"/>
<line x1="247.70" y1="724.50" x2="247.70" y2="724.10" stroke="#000" stroke-width="1.45" stroke-dasharray="6.4 4.3"/>
<line x1="243.38" y1="723.20" x2="252.02" y2="723.20" stroke="#000" stroke-width="1.45"/>
<line x1="243.38" y1="724.50" x2="252.02" y2="724.50" stroke="#000" stroke-width="1.45"/>
<rect x="240.65" y="723.70" width="14.10" height="0.40" fill="#000" stroke="#000" stroke-width="1.45"/>
<line x1="240.65" y1="723.90" x2="254.75" y2="723.90" stroke="#000" stroke-width="3.75" stroke-linecap="round"/>
<line x1="267.20" y1="723.20" x2="267.20" y2="723.70" stroke="#000" stroke-width="1.45" stroke-dasharray="6.4 4.3"/>
<line x1="267.20" y1="724.50" x2="267.20" y2="724.10" stroke="#000" stroke-width="1.45" stroke-dasharray="6.4 4.3"/>
<line x1="262.88" y1="723.20" x2="271.52" y2="723.20" stroke="#000" stroke-width="1.45"/>
<line x1="262.88" y1="724.50" x2="271.52" y2="724.50" stroke="#000" stroke-width="1.45"/>
<rect x="260.15" y="723.70" width="14.10" height="0.40" fill="#000" stroke="#000" stroke-width="1.45"/>
<line x1="260.15" y1="723.90" x2="274.25" y2="723.90" stroke="#000" stroke-width="3.75" stroke-linecap="round"/>
<line x1="285.60" y1="723.20" x2="285.60" y2="723.70" stroke="#000" stroke-width="1.45" stroke-dasharray="6.4 4.3"/>
<line x1="285.60" y1="724.50" x2="285.60" y2="724.10" stroke="#000" stroke-width="1.45" stroke-dasharray="6.4 4.3"/>
<line x1="281.28" y1="723.20" x2="289.92" y2="723.20" stroke="#000" stroke-width="1.45"/>
<line x1="281.28" y1="724.50" x2="289.92" y2="724.50" stroke="#000" stroke-width="1.45"/>
<rect x="278.55" y="723.70" width="14.10" height="0.40" fill="#000" stroke="#000" stroke-width="1.45"/>
<line x1="278.55" y1="723.90" x2="292.65" y2="723.90" stroke="#000" stroke-width="3.75" stroke-linecap="round"/>
<rect x="399.50" y="61.50" width="240.80" height="129.54" fill="none" stroke="#000" stroke-width="1.4"/>
<line x1="417.20" y1="191.04" x2="417.20" y2="199.74" stroke="#000" stroke-width="1.3"/>
<line x1="435.60" y1="191.04" x2="435.60" y2="199.74" stroke="#000" stroke-width="1.3"/>
<line x1="453.90" y1="191.04" x2="453.90" y2="199.74" stroke="#000" stroke-width="1.3"/>
<line x1="473.00" y1="191.04" x2="473.00" y2="199.74" stroke="#000" stroke-width="1.3"/>
<line x1="491.10" y1="191.04" x2="491.10" y2="199.74" stroke="#000" stroke-width="1.3"/>
<line x1="509.50" y1="191.04" x2="509.50" y2="199.74" stroke="#000" stroke-width="1.3"/>
<line x1="528.60" y1="191.04" x2="528.60" y2="199.74" stroke="#000" stroke-width="1.3"/>
<line x1="546.60" y1="191.04" x2="546.60" y2="199.74" stroke="#000" stroke-width="1.3"/>
<line x1="565.30" y1="191.04" x2="565.30" y2="199.74" stroke="#000" stroke-width="1.3"/>
<line x1="584.40" y1="191.04" x2="584.40" y2="199.74" stroke="#000" stroke-width="1.3"/>
<line x1="602.70" y1="191.04" x2="602.70" y2="199.74" stroke="#000" stroke-width="1.3"/>
<line x1="620.70" y1="191.04" x2="620.70" y2="199.74" stroke="#000" stroke-width="1.3"/>
<text x="417.20" y="221.04" text-anchor="middle">V1</text>
<text x="453.90" y="221.04" text-anchor="middle">V3</text>
<text x="491.10" y="221.04" text-anchor="middle">V5</text>
<text x="528.60" y="221.04" text-anchor="middle">V7</text>
<text x="565.30" y="221.04" text-anchor="middle">V9</text>
<text x="603.20" y="221.04" text-anchor="middle" letter-spacing="1">V11</text>
<text x="519.30" y="251.04" text-anchor="middle">Predictor</text>
<text x="518.90" y="54.00" text-anchor="middle">Mtry = 1</text>
<line x1="399.50" y1="83.30" x2="390.90" y2="83.30" stroke="#000" stroke-width="1.3"/>
<line x1="399.50" y1="111.60" x2="390.90" y2="111.60" stroke="#000" stroke-width="1.3"/>
<line x1="399.50" y1="141.30" x2="390.90" y2="141.30" stroke="#000" stroke-width="1.3"/>
<line x1="399.50" y1="169.50" x2="390.90" y2="169.50" stroke="#000" stroke-width="1.3"/>
<text transform="translate(383.10,111.40) rotate(-90)" text-anchor="middle">0.0010</text>
<text transform="translate(383.10,169.20) rotate(-90)" text-anchor="middle">0.0000</text>
<text transform="translate(352.20,126.27) rotate(-90)" text-anchor="middle">VIM Value</text>
<line x1="417.20" y1="163.00" x2="417.20" y2="169.80" stroke="#000" stroke-width="1.45" stroke-dasharray="6.4 4.3"/>
<line x1="417.20" y1="178.40" x2="417.20" y2="173.20" stroke="#000" stroke-width="1.45" stroke-dasharray="6.4 4.3"/>
<line x1="412.88" y1="163.00" x2="421.52" y2="163.00" stroke="#000" stroke-width="1.45"/>
<line x1="412.88" y1="178.40" x2="421.52" y2="178.40" stroke="#000" stroke-width="1.45"/>
<rect x="410.15" y="169.80" width="14.10" height="3.40" fill="#000" stroke="#000" stroke-width="1.45"/>
<line x1="410.15" y1="170.80" x2="424.25" y2="170.80" stroke="#000" stroke-width="3.75" stroke-linecap="round"/>
<circle cx="417.20" cy="97.60" r="1.25"/>
<circle cx="417.20" cy="98.20" r="1.25"/>
<circle cx="417.20" cy="162.00" r="1.25"/>
<circle cx="417.20" cy="161.08" r="1.25"/>
<circle cx="417.20" cy="160.10" r="1.25"/>
<circle cx="417.20" cy="158.98" r="1.25"/>
<circle cx="417.20" cy="158.17" r="1.25"/>
<circle cx="417.20" cy="157.23" r="1.25"/>
<circle cx="417.20" cy="155.92" r="1.25"/>
<circle cx="417.20" cy="154.69" r="1.25"/>
<circle cx="417.20" cy="153.56" r="1.25"/>
<circle cx="417.20" cy="152.38" r="1.25"/>
<circle cx="417.20" cy="151.24" r="1.25"/>
<circle cx="417.20" cy="150.10" r="1.25"/>
<circle cx="417.20" cy="148.83" r="1.25"/>
<circle cx="417.20" cy="147.87" r="1.25"/>
<circle cx="417.20" cy="146.54" r="1.25"/>
<circle cx="417.20" cy="145.15" r="1.25"/>
<circle cx="417.20" cy="143.71" r="1.25"/>
<circle cx="417.20" cy="142.43" r="1.25"/>
<circle cx="417.20" cy="141.02" r="1.25"/>
<circle cx="417.20" cy="139.74" r="1.25"/>
<circle cx="417.20" cy="138.75" r="1.25"/>
<circle cx="417.20" cy="137.22" r="1.25"/>
<circle cx="417.20" cy="135.90" r="1.25"/>
<circle cx="417.20" cy="134.57" r="1.25"/>
<circle cx="417.20" cy="133.12" r="1.25"/>
<circle cx="417.20" cy="131.22" r="1.25"/>
<circle cx="417.20" cy="130.00" r="1.25"/>
<circle cx="417.20" cy="179.50" r="1.25"/>
<circle cx="417.20" cy="180.60" r="1.25"/>
<circle cx="417.20" cy="181.70" r="1.25"/>
<circle cx="417.20" cy="182.80" r="1.25"/>
<circle cx="417.20" cy="183.90" r="1.25"/>
<line x1="435.60" y1="163.00" x2="435.60" y2="169.80" stroke="#000" stroke-width="1.45" stroke-dasharray="6.4 4.3"/>
<line x1="435.60" y1="178.40" x2="435.60" y2="173.20" stroke="#000" stroke-width="1.45" stroke-dasharray="6.4 4.3"/>
<line x1="431.28" y1="163.00" x2="439.92" y2="163.00" stroke="#000" stroke-width="1.45"/>
<line x1="431.28" y1="178.40" x2="439.92" y2="178.40" stroke="#000" stroke-width="1.45"/>
<rect x="428.55" y="169.80" width="14.10" height="3.40" fill="#000" stroke="#000" stroke-width="1.45"/>
<line x1="428.55" y1="170.80" x2="442.65" y2="170.80" stroke="#000" stroke-width="3.75" stroke-linecap="round"/>
<circle cx="435.60" cy="104.60" r="1.25"/>
<circle cx="435.60" cy="116.40" r="1.25"/>
<circle cx="435.60" cy="119.00" r="1.25"/>
<circle cx="435.60" cy="122.40" r="1.25"/>
<circle cx="435.60" cy="135.60" r="1.25"/>
<circle cx="435.60" cy="139.00" r="1.25"/>
<circle cx="435.60" cy="162.00" r="1.25"/>
<circle cx="435.60" cy="160.77" r="1.25"/>
<circle cx="435.60" cy="159.63" r="1.25"/>
<circle cx="435.60" cy="158.38" r="1.25"/>
<circle cx="435.60" cy="157.09" r="1.25"/>
<circle cx="435.60" cy="155.91" r="1.25"/>
<circle cx="435.60" cy="154.59" r="1.25"/>
<circle cx="435.60" cy="153.63" r="1.25"/>
<circle cx="435.60" cy="152.06" r="1.25"/>
<circle cx="435.60" cy="150.83" r="1.25"/>
<circle cx="435.60" cy="149.73" r="1.25"/>
<circle cx="435.60" cy="148.22" r="1.25"/>
<circle cx="435.60" cy="146.94" r="1.25"/>
<circle cx="435.60" cy="147.00" r="1.25"/>
<circle cx="435.60" cy="179.50" r="1.25"/>
<circle cx="435.60" cy="180.50" r="1.25"/>
<circle cx="435.60" cy="181.50" r="1.25"/>
<circle cx="435.60" cy="182.50" r="1.25"/>
<line x1="453.90" y1="163.00" x2="453.90" y2="169.80" stroke="#000" stroke-width="1.45" stroke-dasharray="6.4 4.3"/>
<line x1="453.90" y1="178.40" x2="453.90" y2="173.20" stroke="#000" stroke-width="1.45" stroke-dasharray="6.4 4.3"/>
<line x1="449.58" y1="163.00" x2="458.22" y2="163.00" stroke="#000" stroke-width="1.45"/>
<line x1="449.58" y1="178.40" x2="458.22" y2="178.40" stroke="#000" stroke-width="1.45"/>
<rect x="446.85" y="169.80" width="14.10" height="3.40" fill="#000" stroke="#000" stroke-width="1.45"/>
<line x1="446.85" y1="170.80" x2="460.95" y2="170.80" stroke="#000" stroke-width="3.75" stroke-linecap="round"/>
<circle cx="453.90" cy="98.00" r="1.25"/>
<circle cx="453.90" cy="119.60" r="1.25"/>
<circle cx="453.90" cy="126.00" r="1.25"/>
<circle cx="453.90" cy="162.00" r="1.25"/>
<circle cx="453.90" cy="160.84" r="1.25"/>
<circle cx="453.90" cy="159.60" r="1.25"/>
<circle cx="453.90" cy="158.54" r="1.25"/>
<circle cx="453.90" cy="157.58" r="1.25"/>
<circle cx="453.90" cy="156.48" r="1.25"/>
<circle cx="453.90" cy="155.56" r="1.25"/>
<circle cx="453.90" cy="154.45" r="1.25"/>
<circle cx="453.90" cy="153.55" r="1.25"/>
<circle cx="453.90" cy="152.49" r="1.25"/>
<circle cx="453.90" cy="151.19" r="1.25"/>
<circle cx="453.90" cy="150.07" r="1.25"/>
<circle cx="453.90" cy="148.82" r="1.25"/>
<circle cx="453.90" cy="147.58" r="1.25"/>
<circle cx="453.90" cy="146.15" r="1.25"/>
<circle cx="453.90" cy="144.86" r="1.25"/>
<circle cx="453.90" cy="143.81" r="1.25"/>
<circle cx="453.90" cy="142.26" r="1.25"/>
<circle cx="453.90" cy="141.18" r="1.25"/>
<circle cx="453.90" cy="139.79" r="1.25"/>
<circle cx="453.90" cy="138.52" r="1.25"/>
<circle cx="453.90" cy="137.36" r="1.25"/>
<circle cx="453.90" cy="135.81" r="1.25"/>
<circle cx="453.90" cy="135.00" r="1.25"/>
<circle cx="453.90" cy="179.50" r="1.25"/>
<circle cx="453.90" cy="180.60" r="1.25"/>
<circle cx="453.90" cy="181.70" r="1.25"/>
<circle cx="453.90" cy="182.80" r="1.25"/>
<circle cx="453.90" cy="183.90" r="1.25"/>
<line x1="473.00" y1="164.40" x2="473.00" y2="169.80" stroke="#000" stroke-width="1.45" stroke-dasharray="6.4 4.3"/>
<line x1="473.00" y1="178.40" x2="473.00" y2="173.20" stroke="#000" stroke-width="1.45" stroke-dasharray="6.4 4.3"/>
<line x1="468.68" y1="164.40" x2="477.32" y2="164.40" stroke="#000" stroke-width="1.45"/>
<line x1="468.68" y1="178.40" x2="477.32" y2="178.40" stroke="#000" stroke-width="1.45"/>
<rect x="465.95" y="169.80" width="14.10" height="3.40" fill="#000" stroke="#000" stroke-width="1.45"/>
<line x1="465.95" y1="170.80" x2="480.05" y2="170.80" stroke="#000" stroke-width="3.75" stroke-linecap="round"/>
<circle cx="473.00" cy="94.40" r="1.25"/>
<circle cx="473.00" cy="111.00" r="1.25"/>
<circle cx="473.00" cy="115.00" r="1.25"/>
<circle cx="473.00" cy="118.00" r="1.25"/>
<circle cx="473.00" cy="125.00" r="1.25"/>
<circle cx="473.00" cy="130.00" r="1.25"/>
<circle cx="473.00" cy="133.00" r="1.25"/>
<circle cx="473.00" cy="136.00" r="1.25"/>
<circle cx="473.00" cy="139.00" r="1.25"/>
<circle cx="473.00" cy="142.00" r="1.25"/>
<circle cx="473.00" cy="163.00" r="1.25"/>
<circle cx="473.00" cy="161.85" r="1.25"/>
<circle cx="473.00" cy="161.04" r="1.25"/>
<circle cx="473.00" cy="159.88" r="1.25"/>
<circle cx="473.00" cy="158.94" r="1.25"/>
<circle cx="473.00" cy="157.82" r="1.25"/>
<circle cx="473.00" cy="156.80" r="1.25"/>
<circle cx="473.00" cy="155.72" r="1.25"/>
<circle cx="473.00" cy="154.68" r="1.25"/>
<circle cx="473.00" cy="153.49" r="1.25"/>
<circle cx="473.00" cy="152.12" r="1.25"/>
<circle cx="473.00" cy="151.05" r="1.25"/>
<circle cx="473.00" cy="149.70" r="1.25"/>
<circle cx="473.00" cy="148.47" r="1.25"/>
<circle cx="473.00" cy="147.23" r="1.25"/>
<circle cx="473.00" cy="147.00" r="1.25"/>
<circle cx="473.00" cy="179.50" r="1.25"/>
<circle cx="473.00" cy="180.60" r="1.25"/>
<circle cx="473.00" cy="181.70" r="1.25"/>
<circle cx="473.00" cy="182.80" r="1.25"/>
<circle cx="473.00" cy="185.60" r="1.25"/>
<line x1="491.10" y1="163.00" x2="491.10" y2="169.80" stroke="#000" stroke-width="1.45" stroke-dasharray="6.4 4.3"/>
<line x1="491.10" y1="178.40" x2="491.10" y2="173.20" stroke="#000" stroke-width="1.45" stroke-dasharray="6.4 4.3"/>
<line x1="486.78" y1="163.00" x2="495.42" y2="163.00" stroke="#000" stroke-width="1.45"/>
<line x1="486.78" y1="178.40" x2="495.42" y2="178.40" stroke="#000" stroke-width="1.45"/>
<rect x="484.05" y="169.80" width="14.10" height="3.40" fill="#000" stroke="#000" stroke-width="1.45"/>
<line x1="484.05" y1="170.80" x2="498.15" y2="170.80" stroke="#000" stroke-width="3.75" stroke-linecap="round"/>
<circle cx="491.10" cy="77.60" r="1.25"/>
<circle cx="491.10" cy="126.00" r="1.25"/>
<circle cx="491.10" cy="129.00" r="1.25"/>
<circle cx="491.10" cy="131.00" r="1.25"/>
<circle cx="491.10" cy="135.00" r="1.25"/>
<circle cx="491.10" cy="140.00" r="1.25"/>
<circle cx="491.10" cy="143.00" r="1.25"/>
<circle cx="491.10" cy="146.00" r="1.25"/>
<circle cx="491.10" cy="162.00" r="1.25"/>
<circle cx="491.10" cy="160.78" r="1.25"/>
<circle cx="491.10" cy="159.55" r="1.25"/>
<circle cx="491.10" cy="158.56" r="1.25"/>
<circle cx="491.10" cy="157.27" r="1.25"/>
<circle cx="491.10" cy="156.34" r="1.25"/>
<circle cx="491.10" cy="155.23" r="1.25"/>
<circle cx="491.10" cy="153.73" r="1.25"/>
<circle cx="491.10" cy="152.69" r="1.25"/>
<circle cx="491.10" cy="151.06" r="1.25"/>
<circle cx="491.10" cy="150.00" r="1.25"/>
<circle cx="491.10" cy="179.50" r="1.25"/>
<circle cx="491.10" cy="180.50" r="1.25"/>
<circle cx="491.10" cy="181.50" r="1.25"/>
<line x1="509.50" y1="163.00" x2="509.50" y2="169.80" stroke="#000" stroke-width="1.45" stroke-dasharray="6.4 4.3"/>
<line x1="509.50" y1="178.40" x2="509.50" y2="173.20" stroke="#000" stroke-width="1.45" stroke-dasharray="6.4 4.3"/>
<line x1="505.18" y1="163.00" x2="513.82" y2="163.00" stroke="#000" stroke-width="1.45"/>
<line x1="505.18" y1="178.40" x2="513.82" y2="178.40" stroke="#000" stroke-width="1.45"/>
<rect x="502.45" y="169.80" width="14.10" height="3.40" fill="#000" stroke="#000" stroke-width="1.45"/>
<line x1="502.45" y1="170.80" x2="516.55" y2="170.80" stroke="#000" stroke-width="3.75" stroke-linecap="round"/>
<circle cx="509.50" cy="79.00" r="1.25"/>
<circle cx="509.50" cy="91.60" r="1.25"/>
<circle cx="509.50" cy="100.60" r="1.25"/>
<circle cx="509.50" cy="128.00" r="1.25"/>
<circle cx="509.50" cy="135.00" r="1.25"/>
<circle cx="509.50" cy="137.00" r="1.25"/>
<circle cx="509.50" cy="140.00" r="1.25"/>
<circle cx="509.50" cy="144.00" r="1.25"/>
<circle cx="509.50" cy="147.00" r="1.25"/>
<circle cx="509.50" cy="162.00" r="1.25"/>
<circle cx="509.50" cy="161.14" r="1.25"/>
<circle cx="509.50" cy="159.94" r="1.25"/>
<circle cx="509.50" cy="158.95" r="1.25"/>
<circle cx="509.50" cy="157.91" r="1.25"/>
<circle cx="509.50" cy="156.63" r="1.25"/>
<circle cx="509.50" cy="155.62" r="1.25"/>
<circle cx="509.50" cy="154.07" r="1.25"/>
<circle cx="509.50" cy="152.60" r="1.25"/>
<circle cx="509.50" cy="151.19" r="1.25"/>
<circle cx="509.50" cy="150.00" r="1.25"/>
<circle cx="509.50" cy="179.50" r="1.25"/>
<circle cx="509.50" cy="180.50" r="1.25"/>
<circle cx="509.50" cy="181.50" r="1.25"/>
<circle cx="509.50" cy="182.50" r="1.25"/>
<line x1="528.60" y1="163.00" x2="528.60" y2="169.80" stroke="#000" stroke-width="1.45" stroke-dasharray="6.4 4.3"/>
<line x1="528.60" y1="178.40" x2="528.60" y2="173.20" stroke="#000" stroke-width="1.45" stroke-dasharray="6.4 4.3"/>
<line x1="524.28" y1="163.00" x2="532.92" y2="163.00" stroke="#000" stroke-width="1.45"/>
<line x1="524.28" y1="178.40" x2="532.92" y2="178.40" stroke="#000" stroke-width="1.45"/>
<rect x="521.55" y="169.80" width="14.10" height="3.40" fill="#000" stroke="#000" stroke-width="1.45"/>
<line x1="521.55" y1="170.80" x2="535.65" y2="170.80" stroke="#000" stroke-width="3.75" stroke-linecap="round"/>
<circle cx="528.60" cy="71.00" r="1.25"/>
<circle cx="528.60" cy="90.60" r="1.25"/>
<circle cx="528.60" cy="91.60" r="1.25"/>
<circle cx="528.60" cy="114.40" r="1.25"/>
<circle cx="528.60" cy="121.00" r="1.25"/>
<circle cx="528.60" cy="124.00" r="1.25"/>
<circle cx="528.60" cy="127.00" r="1.25"/>
<circle cx="528.60" cy="130.00" r="1.25"/>
<circle cx="528.60" cy="139.00" r="1.25"/>
<circle cx="528.60" cy="144.00" r="1.25"/>
<circle cx="528.60" cy="162.00" r="1.25"/>
<circle cx="528.60" cy="160.87" r="1.25"/>
<circle cx="528.60" cy="159.92" r="1.25"/>
<circle cx="528.60" cy="159.00" r="1.25"/>
<circle cx="528.60" cy="157.89" r="1.25"/>
<circle cx="528.60" cy="156.68" r="1.25"/>
<circle cx="528.60" cy="155.28" r="1.25"/>
<circle cx="528.60" cy="153.71" r="1.25"/>
<circle cx="528.60" cy="152.15" r="1.25"/>
<circle cx="528.60" cy="150.80" r="1.25"/>
<circle cx="528.60" cy="150.00" r="1.25"/>
<circle cx="528.60" cy="179.50" r="1.25"/>
<circle cx="528.60" cy="180.60" r="1.25"/>
<circle cx="528.60" cy="181.70" r="1.25"/>
<circle cx="528.60" cy="182.80" r="1.25"/>
<circle cx="528.60" cy="185.60" r="1.25"/>
<line x1="546.60" y1="163.00" x2="546.60" y2="169.80" stroke="#000" stroke-width="1.45" stroke-dasharray="6.4 4.3"/>
<line x1="546.60" y1="178.40" x2="546.60" y2="173.20" stroke="#000" stroke-width="1.45" stroke-dasharray="6.4 4.3"/>
<line x1="542.28" y1="163.00" x2="550.92" y2="163.00" stroke="#000" stroke-width="1.45"/>
<line x1="542.28" y1="178.40" x2="550.92" y2="178.40" stroke="#000" stroke-width="1.45"/>
<rect x="539.55" y="169.80" width="14.10" height="3.40" fill="#000" stroke="#000" stroke-width="1.45"/>
<line x1="539.55" y1="170.80" x2="553.65" y2="170.80" stroke="#000" stroke-width="3.75" stroke-linecap="round"/>
<circle cx="546.60" cy="116.00" r="1.25"/>
<circle cx="546.60" cy="118.00" r="1.25"/>
<circle cx="546.60" cy="120.00" r="1.25"/>
<circle cx="546.60" cy="124.00" r="1.25"/>
<circle cx="546.60" cy="129.00" r="1.25"/>
<circle cx="546.60" cy="133.00" r="1.25"/>
<circle cx="546.60" cy="136.00" r="1.25"/>
<circle cx="546.60" cy="162.00" r="1.25"/>
<circle cx="546.60" cy="160.87" r="1.25"/>
<circle cx="546.60" cy="159.86" r="1.25"/>
<circle cx="546.60" cy="158.75" r="1.25"/>
<circle cx="546.60" cy="157.80" r="1.25"/>
<circle cx="546.60" cy="156.73" r="1.25"/>
<circle cx="546.60" cy="155.74" r="1.25"/>
<circle cx="546.60" cy="154.60" r="1.25"/>
<circle cx="546.60" cy="153.62" r="1.25"/>
<circle cx="546.60" cy="152.23" r="1.25"/>
<circle cx="546.60" cy="151.02" r="1.25"/>
<circle cx="546.60" cy="149.67" r="1.25"/>
<circle cx="546.60" cy="148.75" r="1.25"/>
<circle cx="546.60" cy="147.60" r="1.25"/>
<circle cx="546.60" cy="146.37" r="1.25"/>
<circle cx="546.60" cy="145.18" r="1.25"/>
<circle cx="546.60" cy="144.27" r="1.25"/>
<circle cx="546.60" cy="143.36" r="1.25"/>
<circle cx="546.60" cy="141.40" r="1.25"/>
<circle cx="546.60" cy="140.07" r="1.25"/>
<circle cx="546.60" cy="140.00" r="1.25"/>
<circle cx="546.60" cy="179.50" r="1.25"/>
<circle cx="546.60" cy="180.30" r="1.25"/>
<line x1="565.30" y1="163.00" x2="565.30" y2="169.80" stroke="#000" stroke-width="1.45" stroke-dasharray="6.4 4.3"/>
<line x1="565.30" y1="178.40" x2="565.30" y2="173.20" stroke="#000" stroke-width="1.45" stroke-dasharray="6.4 4.3"/>
<line x1="560.98" y1="163.00" x2="569.62" y2="163.00" stroke="#000" stroke-width="1.45"/>
<line x1="560.98" y1="178.40" x2="569.62" y2="178.40" stroke="#000" stroke-width="1.45"/>
<rect x="558.25" y="169.80" width="14.10" height="3.40" fill="#000" stroke="#000" stroke-width="1.45"/>
<line x1="558.25" y1="170.80" x2="572.35" y2="170.80" stroke="#000" stroke-width="3.75" stroke-linecap="round"/>
<circle cx="565.30" cy="97.00" r="1.25"/>
<circle cx="565.30" cy="100.60" r="1.25"/>
<circle cx="565.30" cy="126.00" r="1.25"/>
<circle cx="565.30" cy="129.00" r="1.25"/>
<circle cx="565.30" cy="131.00" r="1.25"/>
<circle cx="565.30" cy="136.00" r="1.25"/>
<circle cx="565.30" cy="138.00" r="1.25"/>
<circle cx="565.30" cy="162.00" r="1.25"/>
<circle cx="565.30" cy="161.02" r="1.25"/>
<circle cx="565.30" cy="159.93" r="1.25"/>
<circle cx="565.30" cy="159.03" r="1.25"/>
<circle cx="565.30" cy="158.15" r="1.25"/>
<circle cx="565.30" cy="156.98" r="1.25"/>
<circle cx="565.30" cy="156.12" r="1.25"/>
<circle cx="565.30" cy="155.07" r="1.25"/>
<circle cx="565.30" cy="153.83" r="1.25"/>
<circle cx="565.30" cy="152.50" r="1.25"/>
<circle cx="565.30" cy="151.38" r="1.25"/>
<circle cx="565.30" cy="150.09" r="1.25"/>
<circle cx="565.30" cy="148.78" r="1.25"/>
<circle cx="565.30" cy="147.62" r="1.25"/>
<circle cx="565.30" cy="146.12" r="1.25"/>
<circle cx="565.30" cy="144.95" r="1.25"/>
<circle cx="565.30" cy="143.16" r="1.25"/>
<circle cx="565.30" cy="143.00" r="1.25"/>
<circle cx="565.30" cy="179.50" r="1.25"/>
<circle cx="565.30" cy="180.50" r="1.25"/>
<line x1="584.40" y1="163.00" x2="584.40" y2="169.80" stroke="#000" stroke-width="1.45" stroke-dasharray="6.4 4.3"/>
<line x1="584.40" y1="181.00" x2="584.40" y2="173.20" stroke="#000" stroke-width="1.45" stroke-dasharray="6.4 4.3"/>
<line x1="580.08" y1="163.00" x2="588.72" y2="163.00" stroke="#000" stroke-width="1.45"/>
<line x1="580.08" y1="181.00" x2="588.72" y2="181.00" stroke="#000" stroke-width="1.45"/>
<rect x="577.35" y="169.80" width="14.10" height="3.40" fill="#000" stroke="#000" stroke-width="1.45"/>
<line x1="577.35" y1="170.80" x2="591.45" y2="170.80" stroke="#000" stroke-width="3.75" stroke-linecap="round"/>
<circle cx="584.40" cy="117.60" r="1.25"/>
<circle cx="584.40" cy="126.00" r="1.25"/>
<circle cx="584.40" cy="130.00" r="1.25"/>
<circle cx="584.40" cy="134.00" r="1.25"/>
<circle cx="584.40" cy="136.00" r="1.25"/>
<circle cx="584.40" cy="162.00" r="1.25"/>
<circle cx="584.40" cy="160.75" r="1.25"/>
<circle cx="584.40" cy="159.82" r="1.25"/>
<circle cx="584.40" cy="158.95" r="1.25"/>
<circle cx="584.40" cy="157.79" r="1.25"/>
<circle cx="584.40" cy="156.56" r="1.25"/>
<circle cx="584.40" cy="155.35" r="1.25"/>
<circle cx="584.40" cy="154.43" r="1.25"/>
<circle cx="584.40" cy="153.60" r="1.25"/>
<circle cx="584.40" cy="152.41" r="1.25"/>
<circle cx="584.40" cy="151.54" r="1.25"/>
<circle cx="584.40" cy="150.24" r="1.25"/>
<circle cx="584.40" cy="149.11" r="1.25"/>
<circle cx="584.40" cy="147.86" r="1.25"/>
<circle cx="584.40" cy="146.27" r="1.25"/>
<circle cx="584.40" cy="144.60" r="1.25"/>
<circle cx="584.40" cy="143.37" r="1.25"/>
<circle cx="584.40" cy="142.00" r="1.25"/>
<circle cx="584.40" cy="182.00" r="1.25"/>
<circle cx="584.40" cy="183.60" r="1.25"/>
<line x1="602.70" y1="164.00" x2="602.70" y2="169.80" stroke="#000" stroke-width="1.45" stroke-dasharray="6.4 4.3"/>
<line x1="602.70" y1="178.40" x2="602.70" y2="173.20" stroke="#000" stroke-width="1.45" stroke-dasharray="6.4 4.3"/>
<line x1="598.38" y1="164.00" x2="607.02" y2="164.00" stroke="#000" stroke-width="1.45"/>
<line x1="598.38" y1="178.40" x2="607.02" y2="178.40" stroke="#000" stroke-width="1.45"/>
<rect x="595.65" y="169.80" width="14.10" height="3.40" fill="#000" stroke="#000" stroke-width="1.45"/>
<line x1="595.65" y1="170.80" x2="609.75" y2="170.80" stroke="#000" stroke-width="3.75" stroke-linecap="round"/>
<circle cx="602.70" cy="108.40" r="1.25"/>
<circle cx="602.70" cy="121.00" r="1.25"/>
<circle cx="602.70" cy="135.60" r="1.25"/>
<circle cx="602.70" cy="139.00" r="1.25"/>
<circle cx="602.70" cy="142.00" r="1.25"/>
<circle cx="602.70" cy="145.00" r="1.25"/>
<circle cx="602.70" cy="163.00" r="1.25"/>
<circle cx="602.70" cy="161.84" r="1.25"/>
<circle cx="602.70" cy="160.66" r="1.25"/>
<circle cx="602.70" cy="159.82" r="1.25"/>
<circle cx="602.70" cy="158.70" r="1.25"/>
<circle cx="602.70" cy="157.76" r="1.25"/>
<circle cx="602.70" cy="156.75" r="1.25"/>
<circle cx="602.70" cy="155.50" r="1.25"/>
<circle cx="602.70" cy="154.41" r="1.25"/>
<circle cx="602.70" cy="153.28" r="1.25"/>
<circle cx="602.70" cy="152.21" r="1.25"/>
<circle cx="602.70" cy="150.69" r="1.25"/>
<circle cx="602.70" cy="149.40" r="1.25"/>
<circle cx="602.70" cy="148.00" r="1.25"/>
<circle cx="602.70" cy="179.50" r="1.25"/>
<circle cx="602.70" cy="180.60" r="1.25"/>
<circle cx="602.70" cy="181.70" r="1.25"/>
<circle cx="602.70" cy="182.80" r="1.25"/>
<line x1="620.70" y1="163.00" x2="620.70" y2="169.80" stroke="#000" stroke-width="1.45" stroke-dasharray="6.4 4.3"/>
<line x1="620.70" y1="178.40" x2="620.70" y2="173.20" stroke="#000" stroke-width="1.45" stroke-dasharray="6.4 4.3"/>
<line x1="616.38" y1="163.00" x2="625.02" y2="163.00" stroke="#000" stroke-width="1.45"/>
<line x1="616.38" y1="178.40" x2="625.02" y2="178.40" stroke="#000" stroke-width="1.45"/>
<rect x="613.65" y="169.80" width="14.10" height="3.40" fill="#000" stroke="#000" stroke-width="1.45"/>
<line x1="613.65" y1="170.80" x2="627.75" y2="170.80" stroke="#000" stroke-width="3.75" stroke-linecap="round"/>
<circle cx="620.70" cy="66.00" r="1.25"/>
<circle cx="620.70" cy="97.00" r="1.25"/>
<circle cx="620.70" cy="102.00" r="1.25"/>
<circle cx="620.70" cy="109.60" r="1.25"/>
<circle cx="620.70" cy="121.40" r="1.25"/>
<circle cx="620.70" cy="131.00" r="1.25"/>
<circle cx="620.70" cy="134.00" r="1.25"/>
<circle cx="620.70" cy="162.00" r="1.25"/>
<circle cx="620.70" cy="160.86" r="1.25"/>
<circle cx="620.70" cy="159.82" r="1.25"/>
<circle cx="620.70" cy="158.57" r="1.25"/>
<circle cx="620.70" cy="157.71" r="1.25"/>
<circle cx="620.70" cy="156.43" r="1.25"/>
<circle cx="620.70" cy="155.37" r="1.25"/>
<circle cx="620.70" cy="154.46" r="1.25"/>
<circle cx="620.70" cy="153.50" r="1.25"/>
<circle cx="620.70" cy="152.51" r="1.25"/>
<circle cx="620.70" cy="151.21" r="1.25"/>
<circle cx="620.70" cy="150.12" r="1.25"/>
<circle cx="620.70" cy="148.90" r="1.25"/>
<circle cx="620.70" cy="147.73" r="1.25"/>
<circle cx="620.70" cy="146.81" r="1.25"/>
<circle cx="620.70" cy="145.62" r="1.25"/>
<circle cx="620.70" cy="144.56" r="1.25"/>
<circle cx="620.70" cy="143.19" r="1.25"/>
<circle cx="620.70" cy="141.70" r="1.25"/>
<circle cx="620.70" cy="140.22" r="1.25"/>
<circle cx="620.70" cy="138.49" r="1.25"/>
<circle cx="620.70" cy="136.74" r="1.25"/>
<circle cx="620.70" cy="137.00" r="1.25"/>
<circle cx="620.70" cy="179.50" r="1.25"/>
<circle cx="620.70" cy="180.60" r="1.25"/>
<circle cx="620.70" cy="181.70" r="1.25"/>
<circle cx="620.70" cy="182.80" r="1.25"/>
<circle cx="620.70" cy="185.60" r="1.25"/>
<rect x="399.50" y="330.95" width="240.80" height="128.25" fill="none" stroke="#000" stroke-width="1.4"/>
<line x1="417.20" y1="459.20" x2="417.20" y2="467.90" stroke="#000" stroke-width="1.3"/>
<line x1="435.60" y1="459.20" x2="435.60" y2="467.90" stroke="#000" stroke-width="1.3"/>
<line x1="453.90" y1="459.20" x2="453.90" y2="467.90" stroke="#000" stroke-width="1.3"/>
<line x1="473.00" y1="459.20" x2="473.00" y2="467.90" stroke="#000" stroke-width="1.3"/>
<line x1="491.10" y1="459.20" x2="491.10" y2="467.90" stroke="#000" stroke-width="1.3"/>
<line x1="509.50" y1="459.20" x2="509.50" y2="467.90" stroke="#000" stroke-width="1.3"/>
<line x1="528.60" y1="459.20" x2="528.60" y2="467.90" stroke="#000" stroke-width="1.3"/>
<line x1="546.60" y1="459.20" x2="546.60" y2="467.90" stroke="#000" stroke-width="1.3"/>
<line x1="565.30" y1="459.20" x2="565.30" y2="467.90" stroke="#000" stroke-width="1.3"/>
<line x1="584.40" y1="459.20" x2="584.40" y2="467.90" stroke="#000" stroke-width="1.3"/>
<line x1="602.70" y1="459.20" x2="602.70" y2="467.90" stroke="#000" stroke-width="1.3"/>
<line x1="620.70" y1="459.20" x2="620.70" y2="467.90" stroke="#000" stroke-width="1.3"/>
<text x="417.20" y="489.20" text-anchor="middle">V1</text>
<text x="453.90" y="489.20" text-anchor="middle">V3</text>
<text x="491.10" y="489.20" text-anchor="middle">V5</text>
<text x="528.60" y="489.20" text-anchor="middle">V7</text>
<text x="565.30" y="489.20" text-anchor="middle">V9</text>
<text x="603.20" y="489.20" text-anchor="middle" letter-spacing="1">V11</text>
<text x="519.30" y="519.20" text-anchor="middle">Predictor</text>
<text x="518.90" y="323.45" text-anchor="middle">Mtry = 3</text>
<line x1="399.50" y1="340.00" x2="390.90" y2="340.00" stroke="#000" stroke-width="1.3"/>
<line x1="399.50" y1="357.05" x2="390.90" y2="357.05" stroke="#000" stroke-width="1.3"/>
<line x1="399.50" y1="374.10" x2="390.90" y2="374.10" stroke="#000" stroke-width="1.3"/>
<line x1="399.50" y1="391.20" x2="390.90" y2="391.20" stroke="#000" stroke-width="1.3"/>
<line x1="399.50" y1="408.20" x2="390.90" y2="408.20" stroke="#000" stroke-width="1.3"/>
<line x1="399.50" y1="425.30" x2="390.90" y2="425.30" stroke="#000" stroke-width="1.3"/>
<line x1="399.50" y1="442.40" x2="390.90" y2="442.40" stroke="#000" stroke-width="1.3"/>
<line x1="399.50" y1="459.20" x2="390.90" y2="459.20" stroke="#000" stroke-width="1.3"/>
<text transform="translate(383.10,357.05) rotate(-90)" text-anchor="middle">0.005</text>
<text transform="translate(383.10,408.20) rotate(-90)" text-anchor="middle">0.002</text>
<text transform="translate(383.10,459.90) rotate(-90)" text-anchor="middle">-0.001</text>
<text transform="translate(352.20,395.07) rotate(-90)" text-anchor="middle">VIM Value</text>
<line x1="417.20" y1="437.80" x2="417.20" y2="441.80" stroke="#000" stroke-width="1.45" stroke-dasharray="6.4 4.3"/>
<line x1="417.20" y1="447.50" x2="417.20" y2="444.30" stroke="#000" stroke-width="1.45" stroke-dasharray="6.4 4.3"/>
<line x1="412.88" y1="437.80" x2="421.52" y2="437.80" stroke="#000" stroke-width="1.45"/>
<line x1="412.88" y1="447.50" x2="421.52" y2="447.50" stroke="#000" stroke-width="1.45"/>
<rect x="410.15" y="441.80" width="14.10" height="2.50" fill="#000" stroke="#000" stroke-width="1.45"/>
<line x1="410.15" y1="442.90" x2="424.25" y2="442.90" stroke="#000" stroke-width="3.75" stroke-linecap="round"/>
<circle cx="417.20" cy="391.00" r="1.25"/>
<circle cx="417.20" cy="408.00" r="1.25"/>
<circle cx="417.20" cy="413.00" r="1.25"/>
<circle cx="417.20" cy="416.00" r="1.25"/>
<circle cx="417.20" cy="436.00" r="1.25"/>
<circle cx="417.20" cy="434.77" r="1.25"/>
<circle cx="417.20" cy="433.60" r="1.25"/>
<circle cx="417.20" cy="432.56" r="1.25"/>
<circle cx="417.20" cy="431.61" r="1.25"/>
<circle cx="417.20" cy="430.40" r="1.25"/>
<circle cx="417.20" cy="429.15" r="1.25"/>
<circle cx="417.20" cy="428.21" r="1.25"/>
<circle cx="417.20" cy="427.15" r="1.25"/>
<circle cx="417.20" cy="425.65" r="1.25"/>
<circle cx="417.20" cy="424.37" r="1.25"/>
<circle cx="417.20" cy="423.20" r="1.25"/>
<circle cx="417.20" cy="421.98" r="1.25"/>
<circle cx="417.20" cy="420.51" r="1.25"/>
<circle cx="417.20" cy="419.24" r="1.25"/>
<circle cx="417.20" cy="419.00" r="1.25"/>
<circle cx="417.20" cy="448.50" r="1.25"/>
<circle cx="417.20" cy="449.40" r="1.25"/>
<circle cx="417.20" cy="450.30" r="1.25"/>
<circle cx="417.20" cy="451.20" r="1.25"/>
<line x1="435.60" y1="437.80" x2="435.60" y2="441.80" stroke="#000" stroke-width="1.45" stroke-dasharray="6.4 4.3"/>
<line x1="435.60" y1="448.60" x2="435.60" y2="444.30" stroke="#000" stroke-width="1.45" stroke-dasharray="6.4 4.3"/>
<line x1="431.28" y1="437.80" x2="439.92" y2="437.80" stroke="#000" stroke-width="1.45"/>
<line x1="431.28" y1="448.60" x2="439.92" y2="448.60" stroke="#000" stroke-width="1.45"/>
<rect x="428.55" y="441.80" width="14.10" height="2.50" fill="#000" stroke="#000" stroke-width="1.45"/>
<line x1="428.55" y1="442.90" x2="442.65" y2="442.90" stroke="#000" stroke-width="3.75" stroke-linecap="round"/>
<circle cx="435.60" cy="394.60" r="1.25"/>
<circle cx="435.60" cy="401.00" r="1.25"/>
<circle cx="435.60" cy="406.00" r="1.25"/>
<circle cx="435.60" cy="411.00" r="1.25"/>
<circle cx="435.60" cy="418.00" r="1.25"/>
<circle cx="435.60" cy="436.00" r="1.25"/>
<circle cx="435.60" cy="435.20" r="1.25"/>
<circle cx="435.60" cy="434.18" r="1.25"/>
<circle cx="435.60" cy="433.26" r="1.25"/>
<circle cx="435.60" cy="431.97" r="1.25"/>
<circle cx="435.60" cy="430.88" r="1.25"/>
<circle cx="435.60" cy="429.85" r="1.25"/>
<circle cx="435.60" cy="428.80" r="1.25"/>
<circle cx="435.60" cy="427.52" r="1.25"/>
<circle cx="435.60" cy="426.10" r="1.25"/>
<circle cx="435.60" cy="424.50" r="1.25"/>
<circle cx="435.60" cy="423.05" r="1.25"/>
<circle cx="435.60" cy="422.00" r="1.25"/>
<circle cx="435.60" cy="449.50" r="1.25"/>
<circle cx="435.60" cy="450.40" r="1.25"/>
<circle cx="435.60" cy="451.30" r="1.25"/>
<line x1="453.90" y1="437.80" x2="453.90" y2="441.80" stroke="#000" stroke-width="1.45" stroke-dasharray="6.4 4.3"/>
<line x1="453.90" y1="447.50" x2="453.90" y2="444.30" stroke="#000" stroke-width="1.45" stroke-dasharray="6.4 4.3"/>
<line x1="449.58" y1="437.80" x2="458.22" y2="437.80" stroke="#000" stroke-width="1.45"/>
<line x1="449.58" y1="447.50" x2="458.22" y2="447.50" stroke="#000" stroke-width="1.45"/>
<rect x="446.85" y="441.80" width="14.10" height="2.50" fill="#000" stroke="#000" stroke-width="1.45"/>
<line x1="446.85" y1="442.90" x2="460.95" y2="442.90" stroke="#000" stroke-width="3.75" stroke-linecap="round"/>
<circle cx="453.90" cy="405.00" r="1.25"/>
<circle cx="453.90" cy="408.00" r="1.25"/>
<circle cx="453.90" cy="411.00" r="1.25"/>
<circle cx="453.90" cy="414.00" r="1.25"/>
<circle cx="453.90" cy="416.00" r="1.25"/>
<circle cx="453.90" cy="436.00" r="1.25"/>
<circle cx="453.90" cy="435.07" r="1.25"/>
<circle cx="453.90" cy="433.78" r="1.25"/>
<circle cx="453.90" cy="432.71" r="1.25"/>
<circle cx="453.90" cy="431.65" r="1.25"/>
<circle cx="453.90" cy="430.44" r="1.25"/>
<circle cx="453.90" cy="429.34" r="1.25"/>
<circle cx="453.90" cy="428.11" r="1.25"/>
<circle cx="453.90" cy="427.01" r="1.25"/>
<circle cx="453.90" cy="425.85" r="1.25"/>
<circle cx="453.90" cy="424.52" r="1.25"/>
<circle cx="453.90" cy="423.20" r="1.25"/>
<circle cx="453.90" cy="421.75" r="1.25"/>
<circle cx="453.90" cy="420.27" r="1.25"/>
<circle cx="453.90" cy="419.15" r="1.25"/>
<circle cx="453.90" cy="419.00" r="1.25"/>
<circle cx="453.90" cy="448.50" r="1.25"/>
<circle cx="453.90" cy="449.40" r="1.25"/>
<circle cx="453.90" cy="452.70" r="1.25"/>
<line x1="473.00" y1="437.80" x2="473.00" y2="441.80" stroke="#000" stroke-width="1.45" stroke-dasharray="6.4 4.3"/>
<line x1="473.00" y1="447.50" x2="473.00" y2="444.30" stroke="#000" stroke-width="1.45" stroke-dasharray="6.4 4.3"/>
<line x1="468.68" y1="437.80" x2="477.32" y2="437.80" stroke="#000" stroke-width="1.45"/>
<line x1="468.68" y1="447.50" x2="477.32" y2="447.50" stroke="#000" stroke-width="1.45"/>
<rect x="465.95" y="441.80" width="14.10" height="2.50" fill="#000" stroke="#000" stroke-width="1.45"/>
<line x1="465.95" y1="442.90" x2="480.05" y2="442.90" stroke="#000" stroke-width="3.75" stroke-linecap="round"/>
<circle cx="473.00" cy="397.00" r="1.25"/>
<circle cx="473.00" cy="406.00" r="1.25"/>
<circle cx="473.00" cy="409.00" r="1.25"/>
<circle cx="473.00" cy="413.00" r="1.25"/>
<circle cx="473.00" cy="416.00" r="1.25"/>
<circle cx="473.00" cy="436.00" r="1.25"/>
<circle cx="473.00" cy="434.82" r="1.25"/>
<circle cx="473.00" cy="433.65" r="1.25"/>
<circle cx="473.00" cy="432.71" r="1.25"/>
<circle cx="473.00" cy="431.47" r="1.25"/>
<circle cx="473.00" cy="430.40" r="1.25"/>
<circle cx="473.00" cy="429.17" r="1.25"/>
<circle cx="473.00" cy="428.14" r="1.25"/>
<circle cx="473.00" cy="426.88" r="1.25"/>
<circle cx="473.00" cy="425.64" r="1.25"/>
<circle cx="473.00" cy="424.67" r="1.25"/>
<circle cx="473.00" cy="423.77" r="1.25"/>
<circle cx="473.00" cy="422.16" r="1.25"/>
<circle cx="473.00" cy="421.13" r="1.25"/>
<circle cx="473.00" cy="419.50" r="1.25"/>
<circle cx="473.00" cy="419.00" r="1.25"/>
<circle cx="473.00" cy="448.50" r="1.25"/>
<circle cx="473.00" cy="449.40" r="1.25"/>
<circle cx="473.00" cy="452.30" r="1.25"/>
<circle cx="473.00" cy="454.80" r="1.25"/>
<line x1="491.10" y1="436.40" x2="491.10" y2="441.20" stroke="#000" stroke-width="1.45" stroke-dasharray="6.4 4.3"/>
<line x1="491.10" y1="450.40" x2="491.10" y2="445.00" stroke="#000" stroke-width="1.45" stroke-dasharray="6.4 4.3"/>
<line x1="486.78" y1="436.40" x2="495.42" y2="436.40" stroke="#000" stroke-width="1.45"/>
<line x1="486.78" y1="450.40" x2="495.42" y2="450.40" stroke="#000" stroke-width="1.45"/>
<rect x="484.05" y="441.20" width="14.10" height="3.80" fill="#000" stroke="#000" stroke-width="1.45"/>
<line x1="484.05" y1="442.90" x2="498.15" y2="442.90" stroke="#000" stroke-width="3.75" stroke-linecap="round"/>
<circle cx="491.10" cy="364.00" r="1.25"/>
<circle cx="491.10" cy="402.00" r="1.25"/>
<circle cx="491.10" cy="404.00" r="1.25"/>
<circle cx="491.10" cy="407.00" r="1.25"/>
<circle cx="491.10" cy="415.00" r="1.25"/>
<circle cx="491.10" cy="418.00" r="1.25"/>
<circle cx="491.10" cy="435.00" r="1.25"/>
<circle cx="491.10" cy="433.90" r="1.25"/>
<circle cx="491.10" cy="432.90" r="1.25"/>
<circle cx="491.10" cy="431.83" r="1.25"/>
<circle cx="491.10" cy="430.91" r="1.25"/>
<circle cx="491.10" cy="429.72" r="1.25"/>
<circle cx="491.10" cy="428.40" r="1.25"/>
<circle cx="491.10" cy="427.04" r="1.25"/>
<circle cx="491.10" cy="425.78" r="1.25"/>
<circle cx="491.10" cy="424.26" r="1.25"/>
<circle cx="491.10" cy="422.95" r="1.25"/>
<circle cx="491.10" cy="421.38" r="1.25"/>
<circle cx="491.10" cy="420.00" r="1.25"/>
<circle cx="491.10" cy="451.30" r="1.25"/>
<circle cx="491.10" cy="452.20" r="1.25"/>
<circle cx="491.10" cy="453.10" r="1.25"/>
<line x1="509.50" y1="437.80" x2="509.50" y2="441.20" stroke="#000" stroke-width="1.45" stroke-dasharray="6.4 4.3"/>
<line x1="509.50" y1="448.60" x2="509.50" y2="445.00" stroke="#000" stroke-width="1.45" stroke-dasharray="6.4 4.3"/>
<line x1="505.18" y1="437.80" x2="513.82" y2="437.80" stroke="#000" stroke-width="1.45"/>
<line x1="505.18" y1="448.60" x2="513.82" y2="448.60" stroke="#000" stroke-width="1.45"/>
<rect x="502.45" y="441.20" width="14.10" height="3.80" fill="#000" stroke="#000" stroke-width="1.45"/>
<line x1="502.45" y1="442.90" x2="516.55" y2="442.90" stroke="#000" stroke-width="3.75" stroke-linecap="round"/>
<circle cx="509.50" cy="377.60" r="1.25"/>
<circle cx="509.50" cy="378.60" r="1.25"/>
<circle cx="509.50" cy="390.00" r="1.25"/>
<circle cx="509.50" cy="395.00" r="1.25"/>
<circle cx="509.50" cy="401.00" r="1.25"/>
<circle cx="509.50" cy="412.00" r="1.25"/>
<circle cx="509.50" cy="414.00" r="1.25"/>
<circle cx="509.50" cy="419.00" r="1.25"/>
<circle cx="509.50" cy="436.00" r="1.25"/>
<circle cx="509.50" cy="435.20" r="1.25"/>
<circle cx="509.50" cy="434.07" r="1.25"/>
<circle cx="509.50" cy="432.99" r="1.25"/>
<circle cx="509.50" cy="432.06" r="1.25"/>
<circle cx="509.50" cy="431.18" r="1.25"/>
<circle cx="509.50" cy="429.98" r="1.25"/>
<circle cx="509.50" cy="428.63" r="1.25"/>
<circle cx="509.50" cy="427.33" r="1.25"/>
<circle cx="509.50" cy="425.77" r="1.25"/>
<circle cx="509.50" cy="424.66" r="1.25"/>
<circle cx="509.50" cy="424.00" r="1.25"/>
<circle cx="509.50" cy="449.50" r="1.25"/>
<circle cx="509.50" cy="450.40" r="1.25"/>
<circle cx="509.50" cy="452.70" r="1.25"/>
<line x1="528.60" y1="436.40" x2="528.60" y2="441.20" stroke="#000" stroke-width="1.45" stroke-dasharray="6.4 4.3"/>
<line x1="528.60" y1="450.60" x2="528.60" y2="445.00" stroke="#000" stroke-width="1.45" stroke-dasharray="6.4 4.3"/>
<line x1="524.28" y1="436.40" x2="532.92" y2="436.40" stroke="#000" stroke-width="1.45"/>
<line x1="524.28" y1="450.60" x2="532.92" y2="450.60" stroke="#000" stroke-width="1.45"/>
<rect x="521.55" y="441.20" width="14.10" height="3.80" fill="#000" stroke="#000" stroke-width="1.45"/>
<line x1="521.55" y1="442.90" x2="535.65" y2="442.90" stroke="#000" stroke-width="3.75" stroke-linecap="round"/>
<circle cx="528.60" cy="335.60" r="1.25"/>
<circle cx="528.60" cy="377.00" r="1.25"/>
<circle cx="528.60" cy="381.00" r="1.25"/>
<circle cx="528.60" cy="384.00" r="1.25"/>
<circle cx="528.60" cy="387.50" r="1.25"/>
<circle cx="528.60" cy="388.50" r="1.25"/>
<circle cx="528.60" cy="400.00" r="1.25"/>
<circle cx="528.60" cy="402.00" r="1.25"/>
<circle cx="528.60" cy="407.00" r="1.25"/>
<circle cx="528.60" cy="418.00" r="1.25"/>
<circle cx="528.60" cy="435.00" r="1.25"/>
<circle cx="528.60" cy="433.93" r="1.25"/>
<circle cx="528.60" cy="432.96" r="1.25"/>
<circle cx="528.60" cy="431.81" r="1.25"/>
<circle cx="528.60" cy="430.52" r="1.25"/>
<circle cx="528.60" cy="429.13" r="1.25"/>
<circle cx="528.60" cy="427.85" r="1.25"/>
<circle cx="528.60" cy="426.21" r="1.25"/>
<circle cx="528.60" cy="424.68" r="1.25"/>
<circle cx="528.60" cy="424.00" r="1.25"/>
<circle cx="528.60" cy="451.50" r="1.25"/>
<circle cx="528.60" cy="452.40" r="1.25"/>
<line x1="546.60" y1="436.40" x2="546.60" y2="441.20" stroke="#000" stroke-width="1.45" stroke-dasharray="6.4 4.3"/>
<line x1="546.60" y1="450.60" x2="546.60" y2="445.00" stroke="#000" stroke-width="1.45" stroke-dasharray="6.4 4.3"/>
<line x1="542.28" y1="436.40" x2="550.92" y2="436.40" stroke="#000" stroke-width="1.45"/>
<line x1="542.28" y1="450.60" x2="550.92" y2="450.60" stroke="#000" stroke-width="1.45"/>
<rect x="539.55" y="441.20" width="14.10" height="3.80" fill="#000" stroke="#000" stroke-width="1.45"/>
<line x1="539.55" y1="442.90" x2="553.65" y2="442.90" stroke="#000" stroke-width="3.75" stroke-linecap="round"/>
<circle cx="546.60" cy="389.60" r="1.25"/>
<circle cx="546.60" cy="398.60" r="1.25"/>
<circle cx="546.60" cy="406.00" r="1.25"/>
<circle cx="546.60" cy="408.00" r="1.25"/>
<circle cx="546.60" cy="411.00" r="1.25"/>
<circle cx="546.60" cy="413.00" r="1.25"/>
<circle cx="546.60" cy="435.00" r="1.25"/>
<circle cx="546.60" cy="434.15" r="1.25"/>
<circle cx="546.60" cy="433.31" r="1.25"/>
<circle cx="546.60" cy="432.42" r="1.25"/>
<circle cx="546.60" cy="431.26" r="1.25"/>
<circle cx="546.60" cy="430.22" r="1.25"/>
<circle cx="546.60" cy="429.23" r="1.25"/>
<circle cx="546.60" cy="428.00" r="1.25"/>
<circle cx="546.60" cy="426.96" r="1.25"/>
<circle cx="546.60" cy="425.72" r="1.25"/>
<circle cx="546.60" cy="424.58" r="1.25"/>
<circle cx="546.60" cy="423.40" r="1.25"/>
<circle cx="546.60" cy="422.51" r="1.25"/>
<circle cx="546.60" cy="421.24" r="1.25"/>
<circle cx="546.60" cy="420.08" r="1.25"/>
<circle cx="546.60" cy="419.05" r="1.25"/>
<circle cx="546.60" cy="417.90" r="1.25"/>
<circle cx="546.60" cy="416.98" r="1.25"/>
<circle cx="546.60" cy="417.00" r="1.25"/>
<circle cx="546.60" cy="451.50" r="1.25"/>
<circle cx="546.60" cy="452.40" r="1.25"/>
<line x1="565.30" y1="437.80" x2="565.30" y2="441.80" stroke="#000" stroke-width="1.45" stroke-dasharray="6.4 4.3"/>
<line x1="565.30" y1="450.00" x2="565.30" y2="444.30" stroke="#000" stroke-width="1.45" stroke-dasharray="6.4 4.3"/>
<line x1="560.98" y1="437.80" x2="569.62" y2="437.80" stroke="#000" stroke-width="1.45"/>
<line x1="560.98" y1="450.00" x2="569.62" y2="450.00" stroke="#000" stroke-width="1.45"/>
<rect x="558.25" y="441.80" width="14.10" height="2.50" fill="#000" stroke="#000" stroke-width="1.45"/>
<line x1="558.25" y1="442.90" x2="572.35" y2="442.90" stroke="#000" stroke-width="3.75" stroke-linecap="round"/>
<circle cx="565.30" cy="370.00" r="1.25"/>
<circle cx="565.30" cy="373.60" r="1.25"/>
<circle cx="565.30" cy="376.60" r="1.25"/>
<circle cx="565.30" cy="380.60" r="1.25"/>
<circle cx="565.30" cy="402.00" r="1.25"/>
<circle cx="565.30" cy="404.00" r="1.25"/>
<circle cx="565.30" cy="410.00" r="1.25"/>
<circle cx="565.30" cy="413.00" r="1.25"/>
<circle cx="565.30" cy="416.00" r="1.25"/>
<circle cx="565.30" cy="436.00" r="1.25"/>
<circle cx="565.30" cy="435.17" r="1.25"/>
<circle cx="565.30" cy="434.14" r="1.25"/>
<circle cx="565.30" cy="432.99" r="1.25"/>
<circle cx="565.30" cy="431.98" r="1.25"/>
<circle cx="565.30" cy="431.09" r="1.25"/>
<circle cx="565.30" cy="430.18" r="1.25"/>
<circle cx="565.30" cy="429.11" r="1.25"/>
<circle cx="565.30" cy="427.93" r="1.25"/>
<circle cx="565.30" cy="427.06" r="1.25"/>
<circle cx="565.30" cy="425.80" r="1.25"/>
<circle cx="565.30" cy="424.40" r="1.25"/>
<circle cx="565.30" cy="422.96" r="1.25"/>
<circle cx="565.30" cy="421.84" r="1.25"/>
<circle cx="565.30" cy="420.09" r="1.25"/>
<circle cx="565.30" cy="420.00" r="1.25"/>
<circle cx="565.30" cy="451.00" r="1.25"/>
<circle cx="565.30" cy="451.60" r="1.25"/>
<line x1="584.40" y1="437.80" x2="584.40" y2="441.80" stroke="#000" stroke-width="1.45" stroke-dasharray="6.4 4.3"/>
<line x1="584.40" y1="450.00" x2="584.40" y2="444.30" stroke="#000" stroke-width="1.45" stroke-dasharray="6.4 4.3"/>
<line x1="580.08" y1="437.80" x2="588.72" y2="437.80" stroke="#000" stroke-width="1.45"/>
<line x1="580.08" y1="450.00" x2="588.72" y2="450.00" stroke="#000" stroke-width="1.45"/>
<rect x="577.35" y="441.80" width="14.10" height="2.50" fill="#000" stroke="#000" stroke-width="1.45"/>
<line x1="577.35" y1="442.90" x2="591.45" y2="442.90" stroke="#000" stroke-width="3.75" stroke-linecap="round"/>
<circle cx="584.40" cy="393.60" r="1.25"/>
<circle cx="584.40" cy="396.60" r="1.25"/>
<circle cx="584.40" cy="398.60" r="1.25"/>
<circle cx="584.40" cy="408.00" r="1.25"/>
<circle cx="584.40" cy="412.00" r="1.25"/>
<circle cx="584.40" cy="414.00" r="1.25"/>
<circle cx="584.40" cy="436.00" r="1.25"/>
<circle cx="584.40" cy="434.86" r="1.25"/>
<circle cx="584.40" cy="433.76" r="1.25"/>
<circle cx="584.40" cy="432.95" r="1.25"/>
<circle cx="584.40" cy="432.06" r="1.25"/>
<circle cx="584.40" cy="431.20" r="1.25"/>
<circle cx="584.40" cy="429.93" r="1.25"/>
<circle cx="584.40" cy="428.59" r="1.25"/>
<circle cx="584.40" cy="427.21" r="1.25"/>
<circle cx="584.40" cy="425.93" r="1.25"/>
<circle cx="584.40" cy="424.77" r="1.25"/>
<circle cx="584.40" cy="423.46" r="1.25"/>
<circle cx="584.40" cy="422.06" r="1.25"/>
<circle cx="584.40" cy="420.95" r="1.25"/>
<circle cx="584.40" cy="419.46" r="1.25"/>
<circle cx="584.40" cy="418.03" r="1.25"/>
<circle cx="584.40" cy="418.00" r="1.25"/>
<line x1="602.70" y1="436.40" x2="602.70" y2="441.20" stroke="#000" stroke-width="1.45" stroke-dasharray="6.4 4.3"/>
<line x1="602.70" y1="450.60" x2="602.70" y2="445.00" stroke="#000" stroke-width="1.45" stroke-dasharray="6.4 4.3"/>
<line x1="598.38" y1="436.40" x2="607.02" y2="436.40" stroke="#000" stroke-width="1.45"/>
<line x1="598.38" y1="450.60" x2="607.02" y2="450.60" stroke="#000" stroke-width="1.45"/>
<rect x="595.65" y="441.20" width="14.10" height="3.80" fill="#000" stroke="#000" stroke-width="1.45"/>
<line x1="595.65" y1="442.90" x2="609.75" y2="442.90" stroke="#000" stroke-width="3.75" stroke-linecap="round"/>
<circle cx="602.70" cy="391.00" r="1.25"/>
<circle cx="602.70" cy="395.00" r="1.25"/>
<circle cx="602.70" cy="415.00" r="1.25"/>
<circle cx="602.70" cy="418.00" r="1.25"/>
<circle cx="602.70" cy="420.00" r="1.25"/>
<circle cx="602.70" cy="435.00" r="1.25"/>
<circle cx="602.70" cy="433.78" r="1.25"/>
<circle cx="602.70" cy="432.52" r="1.25"/>
<circle cx="602.70" cy="431.50" r="1.25"/>
<circle cx="602.70" cy="430.25" r="1.25"/>
<circle cx="602.70" cy="429.28" r="1.25"/>
<circle cx="602.70" cy="427.94" r="1.25"/>
<circle cx="602.70" cy="426.61" r="1.25"/>
<circle cx="602.70" cy="425.47" r="1.25"/>
<circle cx="602.70" cy="424.30" r="1.25"/>
<circle cx="602.70" cy="424.00" r="1.25"/>
<circle cx="602.70" cy="451.50" r="1.25"/>
<circle cx="602.70" cy="452.40" r="1.25"/>
<line x1="620.70" y1="436.40" x2="620.70" y2="441.20" stroke="#000" stroke-width="1.45" stroke-dasharray="6.4 4.3"/>
<line x1="620.70" y1="450.60" x2="620.70" y2="445.00" stroke="#000" stroke-width="1.45" stroke-dasharray="6.4 4.3"/>
<line x1="616.38" y1="436.40" x2="625.02" y2="436.40" stroke="#000" stroke-width="1.45"/>
<line x1="616.38" y1="450.60" x2="625.02" y2="450.60" stroke="#000" stroke-width="1.45"/>
<rect x="613.65" y="441.20" width="14.10" height="3.80" fill="#000" stroke="#000" stroke-width="1.45"/>
<line x1="613.65" y1="442.90" x2="627.75" y2="442.90" stroke="#000" stroke-width="3.75" stroke-linecap="round"/>
<circle cx="620.70" cy="370.00" r="1.25"/>
<circle cx="620.70" cy="376.00" r="1.25"/>
<circle cx="620.70" cy="379.00" r="1.25"/>
<circle cx="620.70" cy="392.00" r="1.25"/>
<circle cx="620.70" cy="400.00" r="1.25"/>
<circle cx="620.70" cy="402.00" r="1.25"/>
<circle cx="620.70" cy="406.00" r="1.25"/>
<circle cx="620.70" cy="435.00" r="1.25"/>
<circle cx="620.70" cy="433.86" r="1.25"/>
<circle cx="620.70" cy="432.94" r="1.25"/>
<circle cx="620.70" cy="431.81" r="1.25"/>
<circle cx="620.70" cy="430.57" r="1.25"/>
<circle cx="620.70" cy="429.30" r="1.25"/>
<circle cx="620.70" cy="428.31" r="1.25"/>
<circle cx="620.70" cy="427.45" r="1.25"/>
<circle cx="620.70" cy="426.16" r="1.25"/>
<circle cx="620.70" cy="425.06" r="1.25"/>
<circle cx="620.70" cy="424.12" r="1.25"/>
<circle cx="620.70" cy="423.19" r="1.25"/>
<circle cx="620.70" cy="422.16" r="1.25"/>
<circle cx="620.70" cy="421.07" r="1.25"/>
<circle cx="620.70" cy="419.85" r="1.25"/>
<circle cx="620.70" cy="418.73" r="1.25"/>
<circle cx="620.70" cy="417.38" r="1.25"/>
<circle cx="620.70" cy="415.88" r="1.25"/>
<circle cx="620.70" cy="414.70" r="1.25"/>
<circle cx="620.70" cy="413.76" r="1.25"/>
<circle cx="620.70" cy="412.46" r="1.25"/>
<circle cx="620.70" cy="410.85" r="1.25"/>
<circle cx="620.70" cy="409.11" r="1.25"/>
<circle cx="620.70" cy="409.00" r="1.25"/>
<circle cx="620.70" cy="451.50" r="1.25"/>
<circle cx="620.70" cy="452.40" r="1.25"/>
<rect x="399.50" y="600.95" width="240.80" height="127.95" fill="none" stroke="#000" stroke-width="1.4"/>
<line x1="417.20" y1="728.90" x2="417.20" y2="737.60" stroke="#000" stroke-width="1.3"/>
<line x1="435.60" y1="728.90" x2="435.60" y2="737.60" stroke="#000" stroke-width="1.3"/>
<line x1="453.90" y1="728.90" x2="453.90" y2="737.60" stroke="#000" stroke-width="1.3"/>
<line x1="473.00" y1="728.90" x2="473.00" y2="737.60" stroke="#000" stroke-width="1.3"/>
<line x1="491.10" y1="728.90" x2="491.10" y2="737.60" stroke="#000" stroke-width="1.3"/>
<line x1="509.50" y1="728.90" x2="509.50" y2="737.60" stroke="#000" stroke-width="1.3"/>
<line x1="528.60" y1="728.90" x2="528.60" y2="737.60" stroke="#000" stroke-width="1.3"/>
<line x1="546.60" y1="728.90" x2="546.60" y2="737.60" stroke="#000" stroke-width="1.3"/>
<line x1="565.30" y1="728.90" x2="565.30" y2="737.60" stroke="#000" stroke-width="1.3"/>
<line x1="584.40" y1="728.90" x2="584.40" y2="737.60" stroke="#000" stroke-width="1.3"/>
<line x1="602.70" y1="728.90" x2="602.70" y2="737.60" stroke="#000" stroke-width="1.3"/>
<line x1="620.70" y1="728.90" x2="620.70" y2="737.60" stroke="#000" stroke-width="1.3"/>
<text x="417.20" y="758.90" text-anchor="middle">V1</text>
<text x="453.90" y="758.90" text-anchor="middle">V3</text>
<text x="491.10" y="758.90" text-anchor="middle">V5</text>
<text x="528.60" y="758.90" text-anchor="middle">V7</text>
<text x="565.30" y="758.90" text-anchor="middle">V9</text>
<text x="603.20" y="758.90" text-anchor="middle" letter-spacing="1">V11</text>
<text x="519.30" y="788.90" text-anchor="middle">Predictor</text>
<text x="518.90" y="593.45" text-anchor="middle">Mtry = 8</text>
<line x1="399.50" y1="600.95" x2="390.90" y2="600.95" stroke="#000" stroke-width="1.3"/>
<line x1="399.50" y1="638.00" x2="390.90" y2="638.00" stroke="#000" stroke-width="1.3"/>
<line x1="399.50" y1="675.00" x2="390.90" y2="675.00" stroke="#000" stroke-width="1.3"/>
<line x1="399.50" y1="712.40" x2="390.90" y2="712.40" stroke="#000" stroke-width="1.3"/>
<text transform="translate(383.10,638.00) rotate(-90)" text-anchor="middle">0.010</text>
<text transform="translate(383.10,712.40) rotate(-90)" text-anchor="middle">0.000</text>
<text transform="translate(352.20,664.92) rotate(-90)" text-anchor="middle">VIM Value</text>
<line x1="417.20" y1="708.40" x2="417.20" y2="712.40" stroke="#000" stroke-width="1.45" stroke-dasharray="6.4 4.3"/>
<line x1="417.20" y1="717.50" x2="417.20" y2="714.40" stroke="#000" stroke-width="1.45" stroke-dasharray="6.4 4.3"/>
<line x1="412.88" y1="708.40" x2="421.52" y2="708.40" stroke="#000" stroke-width="1.45"/>
<line x1="412.88" y1="717.50" x2="421.52" y2="717.50" stroke="#000" stroke-width="1.45"/>
<rect x="410.15" y="712.40" width="14.10" height="2.00" fill="#000" stroke="#000" stroke-width="1.45"/>
<line x1="410.15" y1="713.50" x2="424.25" y2="713.50" stroke="#000" stroke-width="3.75" stroke-linecap="round"/>
<circle cx="417.20" cy="673.00" r="1.25"/>
<circle cx="417.20" cy="686.00" r="1.25"/>
<circle cx="417.20" cy="707.00" r="1.25"/>
<circle cx="417.20" cy="706.09" r="1.25"/>
<circle cx="417.20" cy="704.98" r="1.25"/>
<circle cx="417.20" cy="703.77" r="1.25"/>
<circle cx="417.20" cy="702.75" r="1.25"/>
<circle cx="417.20" cy="701.71" r="1.25"/>
<circle cx="417.20" cy="700.36" r="1.25"/>
<circle cx="417.20" cy="699.09" r="1.25"/>
<circle cx="417.20" cy="697.80" r="1.25"/>
<circle cx="417.20" cy="696.58" r="1.25"/>
<circle cx="417.20" cy="695.21" r="1.25"/>
<circle cx="417.20" cy="695.00" r="1.25"/>
<circle cx="417.20" cy="718.60" r="1.25"/>
<line x1="435.60" y1="708.40" x2="435.60" y2="712.40" stroke="#000" stroke-width="1.45" stroke-dasharray="6.4 4.3"/>
<line x1="435.60" y1="717.50" x2="435.60" y2="714.40" stroke="#000" stroke-width="1.45" stroke-dasharray="6.4 4.3"/>
<line x1="431.28" y1="708.40" x2="439.92" y2="708.40" stroke="#000" stroke-width="1.45"/>
<line x1="431.28" y1="717.50" x2="439.92" y2="717.50" stroke="#000" stroke-width="1.45"/>
<rect x="428.55" y="712.40" width="14.10" height="2.00" fill="#000" stroke="#000" stroke-width="1.45"/>
<line x1="428.55" y1="713.50" x2="442.65" y2="713.50" stroke="#000" stroke-width="3.75" stroke-linecap="round"/>
<circle cx="435.60" cy="663.00" r="1.25"/>
<circle cx="435.60" cy="679.00" r="1.25"/>
<circle cx="435.60" cy="683.00" r="1.25"/>
<circle cx="435.60" cy="690.00" r="1.25"/>
<circle cx="435.60" cy="693.00" r="1.25"/>
<circle cx="435.60" cy="707.00" r="1.25"/>
<circle cx="435.60" cy="705.83" r="1.25"/>
<circle cx="435.60" cy="704.69" r="1.25"/>
<circle cx="435.60" cy="703.74" r="1.25"/>
<circle cx="435.60" cy="702.36" r="1.25"/>
<circle cx="435.60" cy="701.31" r="1.25"/>
<circle cx="435.60" cy="700.28" r="1.25"/>
<circle cx="435.60" cy="700.00" r="1.25"/>
<circle cx="435.60" cy="718.60" r="1.25"/>
<circle cx="435.60" cy="719.50" r="1.25"/>
<line x1="453.90" y1="708.40" x2="453.90" y2="712.40" stroke="#000" stroke-width="1.45" stroke-dasharray="6.4 4.3"/>
<line x1="453.90" y1="717.50" x2="453.90" y2="714.40" stroke="#000" stroke-width="1.45" stroke-dasharray="6.4 4.3"/>
<line x1="449.58" y1="708.40" x2="458.22" y2="708.40" stroke="#000" stroke-width="1.45"/>
<line x1="449.58" y1="717.50" x2="458.22" y2="717.50" stroke="#000" stroke-width="1.45"/>
<rect x="446.85" y="712.40" width="14.10" height="2.00" fill="#000" stroke="#000" stroke-width="1.45"/>
<line x1="446.85" y1="713.50" x2="460.95" y2="713.50" stroke="#000" stroke-width="3.75" stroke-linecap="round"/>
<circle cx="453.90" cy="688.40" r="1.25"/>
<circle cx="453.90" cy="707.00" r="1.25"/>
<circle cx="453.90" cy="705.76" r="1.25"/>
<circle cx="453.90" cy="704.65" r="1.25"/>
<circle cx="453.90" cy="703.57" r="1.25"/>
<circle cx="453.90" cy="702.23" r="1.25"/>
<circle cx="453.90" cy="700.90" r="1.25"/>
<circle cx="453.90" cy="699.63" r="1.25"/>
<circle cx="453.90" cy="698.05" r="1.25"/>
<circle cx="453.90" cy="696.68" r="1.25"/>
<circle cx="453.90" cy="695.73" r="1.25"/>
<circle cx="453.90" cy="694.36" r="1.25"/>
<circle cx="453.90" cy="692.73" r="1.25"/>
<circle cx="453.90" cy="693.00" r="1.25"/>
<circle cx="453.90" cy="718.60" r="1.25"/>
<line x1="473.00" y1="708.40" x2="473.00" y2="712.40" stroke="#000" stroke-width="1.45" stroke-dasharray="6.4 4.3"/>
<line x1="473.00" y1="717.50" x2="473.00" y2="714.40" stroke="#000" stroke-width="1.45" stroke-dasharray="6.4 4.3"/>
<line x1="468.68" y1="708.40" x2="477.32" y2="708.40" stroke="#000" stroke-width="1.45"/>
<line x1="468.68" y1="717.50" x2="477.32" y2="717.50" stroke="#000" stroke-width="1.45"/>
<rect x="465.95" y="712.40" width="14.10" height="2.00" fill="#000" stroke="#000" stroke-width="1.45"/>
<line x1="465.95" y1="713.50" x2="480.05" y2="713.50" stroke="#000" stroke-width="3.75" stroke-linecap="round"/>
<circle cx="473.00" cy="686.00" r="1.25"/>
<circle cx="473.00" cy="694.00" r="1.25"/>
<circle cx="473.00" cy="707.00" r="1.25"/>
<circle cx="473.00" cy="706.06" r="1.25"/>
<circle cx="473.00" cy="705.08" r="1.25"/>
<circle cx="473.00" cy="703.89" r="1.25"/>
<circle cx="473.00" cy="703.00" r="1.25"/>
<circle cx="473.00" cy="701.98" r="1.25"/>
<circle cx="473.00" cy="700.84" r="1.25"/>
<circle cx="473.00" cy="699.19" r="1.25"/>
<circle cx="473.00" cy="698.00" r="1.25"/>
<circle cx="473.00" cy="718.60" r="1.25"/>
<circle cx="473.00" cy="719.60" r="1.25"/>
<circle cx="473.00" cy="720.80" r="1.25"/>
<line x1="491.10" y1="704.60" x2="491.10" y2="710.80" stroke="#000" stroke-width="1.45" stroke-dasharray="6.4 4.3"/>
<line x1="491.10" y1="722.20" x2="491.10" y2="716.60" stroke="#000" stroke-width="1.45" stroke-dasharray="6.4 4.3"/>
<line x1="486.78" y1="704.60" x2="495.42" y2="704.60" stroke="#000" stroke-width="1.45"/>
<line x1="486.78" y1="722.20" x2="495.42" y2="722.20" stroke="#000" stroke-width="1.45"/>
<rect x="484.05" y="710.80" width="14.10" height="5.80" fill="none" stroke="#000" stroke-width="1.45"/>
<line x1="484.05" y1="713.50" x2="498.15" y2="713.50" stroke="#000" stroke-width="3.75" stroke-linecap="round"/>
<circle cx="491.10" cy="643.60" r="1.25"/>
<circle cx="491.10" cy="670.60" r="1.25"/>
<circle cx="491.10" cy="677.00" r="1.25"/>
<circle cx="491.10" cy="680.00" r="1.25"/>
<circle cx="491.10" cy="684.00" r="1.25"/>
<circle cx="491.10" cy="689.00" r="1.25"/>
<circle cx="491.10" cy="703.00" r="1.25"/>
<circle cx="491.10" cy="702.01" r="1.25"/>
<circle cx="491.10" cy="701.05" r="1.25"/>
<circle cx="491.10" cy="699.97" r="1.25"/>
<circle cx="491.10" cy="698.90" r="1.25"/>
<circle cx="491.10" cy="697.87" r="1.25"/>
<circle cx="491.10" cy="696.40" r="1.25"/>
<circle cx="491.10" cy="695.33" r="1.25"/>
<circle cx="491.10" cy="694.12" r="1.25"/>
<circle cx="491.10" cy="692.80" r="1.25"/>
<circle cx="491.10" cy="693.00" r="1.25"/>
<line x1="509.50" y1="705.90" x2="509.50" y2="712.00" stroke="#000" stroke-width="1.45" stroke-dasharray="6.4 4.3"/>
<line x1="509.50" y1="721.40" x2="509.50" y2="715.20" stroke="#000" stroke-width="1.45" stroke-dasharray="6.4 4.3"/>
<line x1="505.18" y1="705.90" x2="513.82" y2="705.90" stroke="#000" stroke-width="1.45"/>
<line x1="505.18" y1="721.40" x2="513.82" y2="721.40" stroke="#000" stroke-width="1.45"/>
<rect x="502.45" y="712.00" width="14.10" height="3.20" fill="#000" stroke="#000" stroke-width="1.45"/>
<line x1="502.45" y1="713.50" x2="516.55" y2="713.50" stroke="#000" stroke-width="3.75" stroke-linecap="round"/>
<circle cx="509.50" cy="636.00" r="1.25"/>
<circle cx="509.50" cy="655.40" r="1.25"/>
<circle cx="509.50" cy="666.00" r="1.25"/>
<circle cx="509.50" cy="704.00" r="1.25"/>
<circle cx="509.50" cy="703.17" r="1.25"/>
<circle cx="509.50" cy="701.99" r="1.25"/>
<circle cx="509.50" cy="700.70" r="1.25"/>
<circle cx="509.50" cy="699.41" r="1.25"/>
<circle cx="509.50" cy="698.51" r="1.25"/>
<circle cx="509.50" cy="697.49" r="1.25"/>
<circle cx="509.50" cy="696.64" r="1.25"/>
<circle cx="509.50" cy="695.78" r="1.25"/>
<circle cx="509.50" cy="694.81" r="1.25"/>
<circle cx="509.50" cy="693.78" r="1.25"/>
<circle cx="509.50" cy="692.92" r="1.25"/>
<circle cx="509.50" cy="691.73" r="1.25"/>
<circle cx="509.50" cy="690.36" r="1.25"/>
<circle cx="509.50" cy="689.42" r="1.25"/>
<circle cx="509.50" cy="688.09" r="1.25"/>
<circle cx="509.50" cy="686.84" r="1.25"/>
<circle cx="509.50" cy="685.69" r="1.25"/>
<circle cx="509.50" cy="684.80" r="1.25"/>
<circle cx="509.50" cy="683.39" r="1.25"/>
<circle cx="509.50" cy="681.95" r="1.25"/>
<circle cx="509.50" cy="680.42" r="1.25"/>
<circle cx="509.50" cy="678.91" r="1.25"/>
<circle cx="509.50" cy="677.61" r="1.25"/>
<circle cx="509.50" cy="676.61" r="1.25"/>
<circle cx="509.50" cy="674.80" r="1.25"/>
<circle cx="509.50" cy="673.41" r="1.25"/>
<circle cx="509.50" cy="672.05" r="1.25"/>
<circle cx="509.50" cy="670.44" r="1.25"/>
<circle cx="509.50" cy="669.00" r="1.25"/>
<circle cx="509.50" cy="669.00" r="1.25"/>
<circle cx="509.50" cy="722.30" r="1.25"/>
<circle cx="509.50" cy="723.00" r="1.25"/>
<line x1="528.60" y1="705.90" x2="528.60" y2="710.60" stroke="#000" stroke-width="1.45" stroke-dasharray="6.4 4.3"/>
<line x1="528.60" y1="720.00" x2="528.60" y2="716.40" stroke="#000" stroke-width="1.45" stroke-dasharray="6.4 4.3"/>
<line x1="524.28" y1="705.90" x2="532.92" y2="705.90" stroke="#000" stroke-width="1.45"/>
<line x1="524.28" y1="720.00" x2="532.92" y2="720.00" stroke="#000" stroke-width="1.45"/>
<rect x="521.55" y="710.60" width="14.10" height="5.80" fill="none" stroke="#000" stroke-width="1.45"/>
<line x1="521.55" y1="713.50" x2="535.65" y2="713.50" stroke="#000" stroke-width="3.75" stroke-linecap="round"/>
<circle cx="528.60" cy="604.00" r="1.25"/>
<circle cx="528.60" cy="656.00" r="1.25"/>
<circle cx="528.60" cy="659.00" r="1.25"/>
<circle cx="528.60" cy="661.00" r="1.25"/>
<circle cx="528.60" cy="668.00" r="1.25"/>
<circle cx="528.60" cy="674.00" r="1.25"/>
<circle cx="528.60" cy="677.00" r="1.25"/>
<circle cx="528.60" cy="682.00" r="1.25"/>
<circle cx="528.60" cy="704.00" r="1.25"/>
<circle cx="528.60" cy="702.99" r="1.25"/>
<circle cx="528.60" cy="701.77" r="1.25"/>
<circle cx="528.60" cy="700.67" r="1.25"/>
<circle cx="528.60" cy="699.53" r="1.25"/>
<circle cx="528.60" cy="698.45" r="1.25"/>
<circle cx="528.60" cy="697.08" r="1.25"/>
<circle cx="528.60" cy="695.98" r="1.25"/>
<circle cx="528.60" cy="694.74" r="1.25"/>
<circle cx="528.60" cy="692.86" r="1.25"/>
<circle cx="528.60" cy="692.00" r="1.25"/>
<line x1="546.60" y1="707.30" x2="546.60" y2="711.90" stroke="#000" stroke-width="1.45" stroke-dasharray="6.4 4.3"/>
<line x1="546.60" y1="721.30" x2="546.60" y2="715.50" stroke="#000" stroke-width="1.45" stroke-dasharray="6.4 4.3"/>
<line x1="542.28" y1="707.30" x2="550.92" y2="707.30" stroke="#000" stroke-width="1.45"/>
<line x1="542.28" y1="721.30" x2="550.92" y2="721.30" stroke="#000" stroke-width="1.45"/>
<rect x="539.55" y="711.90" width="14.10" height="3.60" fill="#000" stroke="#000" stroke-width="1.45"/>
<line x1="539.55" y1="713.50" x2="553.65" y2="713.50" stroke="#000" stroke-width="3.75" stroke-linecap="round"/>
<circle cx="546.60" cy="668.00" r="1.25"/>
<circle cx="546.60" cy="672.00" r="1.25"/>
<circle cx="546.60" cy="674.00" r="1.25"/>
<circle cx="546.60" cy="677.00" r="1.25"/>
<circle cx="546.60" cy="680.00" r="1.25"/>
<circle cx="546.60" cy="682.00" r="1.25"/>
<circle cx="546.60" cy="706.00" r="1.25"/>
<circle cx="546.60" cy="704.74" r="1.25"/>
<circle cx="546.60" cy="703.74" r="1.25"/>
<circle cx="546.60" cy="702.78" r="1.25"/>
<circle cx="546.60" cy="701.48" r="1.25"/>
<circle cx="546.60" cy="700.50" r="1.25"/>
<circle cx="546.60" cy="699.55" r="1.25"/>
<circle cx="546.60" cy="698.51" r="1.25"/>
<circle cx="546.60" cy="697.64" r="1.25"/>
<circle cx="546.60" cy="696.72" r="1.25"/>
<circle cx="546.60" cy="695.48" r="1.25"/>
<circle cx="546.60" cy="694.07" r="1.25"/>
<circle cx="546.60" cy="692.86" r="1.25"/>
<circle cx="546.60" cy="691.46" r="1.25"/>
<circle cx="546.60" cy="690.47" r="1.25"/>
<circle cx="546.60" cy="689.25" r="1.25"/>
<circle cx="546.60" cy="688.14" r="1.25"/>
<circle cx="546.60" cy="686.39" r="1.25"/>
<circle cx="546.60" cy="686.00" r="1.25"/>
<circle cx="546.60" cy="722.30" r="1.25"/>
<circle cx="546.60" cy="723.30" r="1.25"/>
<line x1="565.30" y1="707.30" x2="565.30" y2="711.90" stroke="#000" stroke-width="1.45" stroke-dasharray="6.4 4.3"/>
<line x1="565.30" y1="721.30" x2="565.30" y2="715.50" stroke="#000" stroke-width="1.45" stroke-dasharray="6.4 4.3"/>
<line x1="560.98" y1="707.30" x2="569.62" y2="707.30" stroke="#000" stroke-width="1.45"/>
<line x1="560.98" y1="721.30" x2="569.62" y2="721.30" stroke="#000" stroke-width="1.45"/>
<rect x="558.25" y="711.90" width="14.10" height="3.60" fill="#000" stroke="#000" stroke-width="1.45"/>
<line x1="558.25" y1="713.50" x2="572.35" y2="713.50" stroke="#000" stroke-width="3.75" stroke-linecap="round"/>
<circle cx="565.30" cy="643.60" r="1.25"/>
<circle cx="565.30" cy="648.40" r="1.25"/>
<circle cx="565.30" cy="660.00" r="1.25"/>
<circle cx="565.30" cy="667.00" r="1.25"/>
<circle cx="565.30" cy="672.00" r="1.25"/>
<circle cx="565.30" cy="679.00" r="1.25"/>
<circle cx="565.30" cy="682.00" r="1.25"/>
<circle cx="565.30" cy="706.00" r="1.25"/>
<circle cx="565.30" cy="705.11" r="1.25"/>
<circle cx="565.30" cy="703.97" r="1.25"/>
<circle cx="565.30" cy="703.10" r="1.25"/>
<circle cx="565.30" cy="701.92" r="1.25"/>
<circle cx="565.30" cy="700.97" r="1.25"/>
<circle cx="565.30" cy="699.73" r="1.25"/>
<circle cx="565.30" cy="698.38" r="1.25"/>
<circle cx="565.30" cy="697.37" r="1.25"/>
<circle cx="565.30" cy="696.12" r="1.25"/>
<circle cx="565.30" cy="695.14" r="1.25"/>
<circle cx="565.30" cy="694.22" r="1.25"/>
<circle cx="565.30" cy="692.81" r="1.25"/>
<circle cx="565.30" cy="691.86" r="1.25"/>
<circle cx="565.30" cy="689.91" r="1.25"/>
<circle cx="565.30" cy="688.40" r="1.25"/>
<circle cx="565.30" cy="688.00" r="1.25"/>
<circle cx="565.30" cy="722.30" r="1.25"/>
<circle cx="565.30" cy="722.80" r="1.25"/>
<line x1="584.40" y1="705.90" x2="584.40" y2="711.90" stroke="#000" stroke-width="1.45" stroke-dasharray="6.4 4.3"/>
<line x1="584.40" y1="721.00" x2="584.40" y2="715.50" stroke="#000" stroke-width="1.45" stroke-dasharray="6.4 4.3"/>
<line x1="580.08" y1="705.90" x2="588.72" y2="705.90" stroke="#000" stroke-width="1.45"/>
<line x1="580.08" y1="721.00" x2="588.72" y2="721.00" stroke="#000" stroke-width="1.45"/>
<rect x="577.35" y="711.90" width="14.10" height="3.60" fill="#000" stroke="#000" stroke-width="1.45"/>
<line x1="577.35" y1="713.50" x2="591.45" y2="713.50" stroke="#000" stroke-width="3.75" stroke-linecap="round"/>
<circle cx="584.40" cy="677.00" r="1.25"/>
<circle cx="584.40" cy="679.00" r="1.25"/>
<circle cx="584.40" cy="683.00" r="1.25"/>
<circle cx="584.40" cy="704.00" r="1.25"/>
<circle cx="584.40" cy="702.96" r="1.25"/>
<circle cx="584.40" cy="702.00" r="1.25"/>
<circle cx="584.40" cy="701.02" r="1.25"/>
<circle cx="584.40" cy="699.80" r="1.25"/>
<circle cx="584.40" cy="698.73" r="1.25"/>
<circle cx="584.40" cy="697.64" r="1.25"/>
<circle cx="584.40" cy="696.39" r="1.25"/>
<circle cx="584.40" cy="695.06" r="1.25"/>
<circle cx="584.40" cy="693.78" r="1.25"/>
<circle cx="584.40" cy="692.12" r="1.25"/>
<circle cx="584.40" cy="691.07" r="1.25"/>
<circle cx="584.40" cy="690.14" r="1.25"/>
<circle cx="584.40" cy="688.51" r="1.25"/>
<circle cx="584.40" cy="688.00" r="1.25"/>
<line x1="602.70" y1="705.90" x2="602.70" y2="711.90" stroke="#000" stroke-width="1.45" stroke-dasharray="6.4 4.3"/>
<line x1="602.70" y1="721.00" x2="602.70" y2="715.50" stroke="#000" stroke-width="1.45" stroke-dasharray="6.4 4.3"/>
<line x1="598.38" y1="705.90" x2="607.02" y2="705.90" stroke="#000" stroke-width="1.45"/>
<line x1="598.38" y1="721.00" x2="607.02" y2="721.00" stroke="#000" stroke-width="1.45"/>
<rect x="595.65" y="711.90" width="14.10" height="3.60" fill="#000" stroke="#000" stroke-width="1.45"/>
<line x1="595.65" y1="713.50" x2="609.75" y2="713.50" stroke="#000" stroke-width="3.75" stroke-linecap="round"/>
<circle cx="602.70" cy="663.00" r="1.25"/>
<circle cx="602.70" cy="670.60" r="1.25"/>
<circle cx="602.70" cy="683.60" r="1.25"/>
<circle cx="602.70" cy="704.00" r="1.25"/>
<circle cx="602.70" cy="703.19" r="1.25"/>
<circle cx="602.70" cy="701.99" r="1.25"/>
<circle cx="602.70" cy="700.84" r="1.25"/>
<circle cx="602.70" cy="699.65" r="1.25"/>
<circle cx="602.70" cy="698.55" r="1.25"/>
<circle cx="602.70" cy="697.60" r="1.25"/>
<circle cx="602.70" cy="696.55" r="1.25"/>
<circle cx="602.70" cy="695.49" r="1.25"/>
<circle cx="602.70" cy="694.32" r="1.25"/>
<circle cx="602.70" cy="692.65" r="1.25"/>
<circle cx="602.70" cy="690.96" r="1.25"/>
<circle cx="602.70" cy="689.30" r="1.25"/>
<circle cx="602.70" cy="688.25" r="1.25"/>
<circle cx="602.70" cy="688.00" r="1.25"/>
<line x1="620.70" y1="704.60" x2="620.70" y2="711.90" stroke="#000" stroke-width="1.45" stroke-dasharray="6.4 4.3"/>
<line x1="620.70" y1="722.50" x2="620.70" y2="715.50" stroke="#000" stroke-width="1.45" stroke-dasharray="6.4 4.3"/>
<line x1="616.38" y1="704.60" x2="625.02" y2="704.60" stroke="#000" stroke-width="1.45"/>
<line x1="616.38" y1="722.50" x2="625.02" y2="722.50" stroke="#000" stroke-width="1.45"/>
<rect x="613.65" y="711.90" width="14.10" height="3.60" fill="#000" stroke="#000" stroke-width="1.45"/>
<line x1="613.65" y1="713.50" x2="627.75" y2="713.50" stroke="#000" stroke-width="3.75" stroke-linecap="round"/>
<circle cx="620.70" cy="618.00" r="1.25"/>
<circle cx="620.70" cy="641.00" r="1.25"/>
<circle cx="620.70" cy="651.00" r="1.25"/>
<circle cx="620.70" cy="666.60" r="1.25"/>
<circle cx="620.70" cy="676.00" r="1.25"/>
<circle cx="620.70" cy="679.00" r="1.25"/>
<circle cx="620.70" cy="686.00" r="1.25"/>
<circle cx="620.70" cy="703.00" r="1.25"/>
<circle cx="620.70" cy="702.03" r="1.25"/>
<circle cx="620.70" cy="701.08" r="1.25"/>
<circle cx="620.70" cy="700.04" r="1.25"/>
<circle cx="620.70" cy="698.93" r="1.25"/>
<circle cx="620.70" cy="697.58" r="1.25"/>
<circle cx="620.70" cy="696.44" r="1.25"/>
<circle cx="620.70" cy="695.49" r="1.25"/>
<circle cx="620.70" cy="693.98" r="1.25"/>
<circle cx="620.70" cy="692.69" r="1.25"/>
<circle cx="620.70" cy="691.02" r="1.25"/>
<circle cx="620.70" cy="689.84" r="1.25"/>
<circle cx="620.70" cy="690.00" r="1.25"/>
<circle cx="620.70" cy="723.40" r="1.25"/>
<circle cx="620.70" cy="724.00" r="1.25"/>
</svg>
</body></html>
